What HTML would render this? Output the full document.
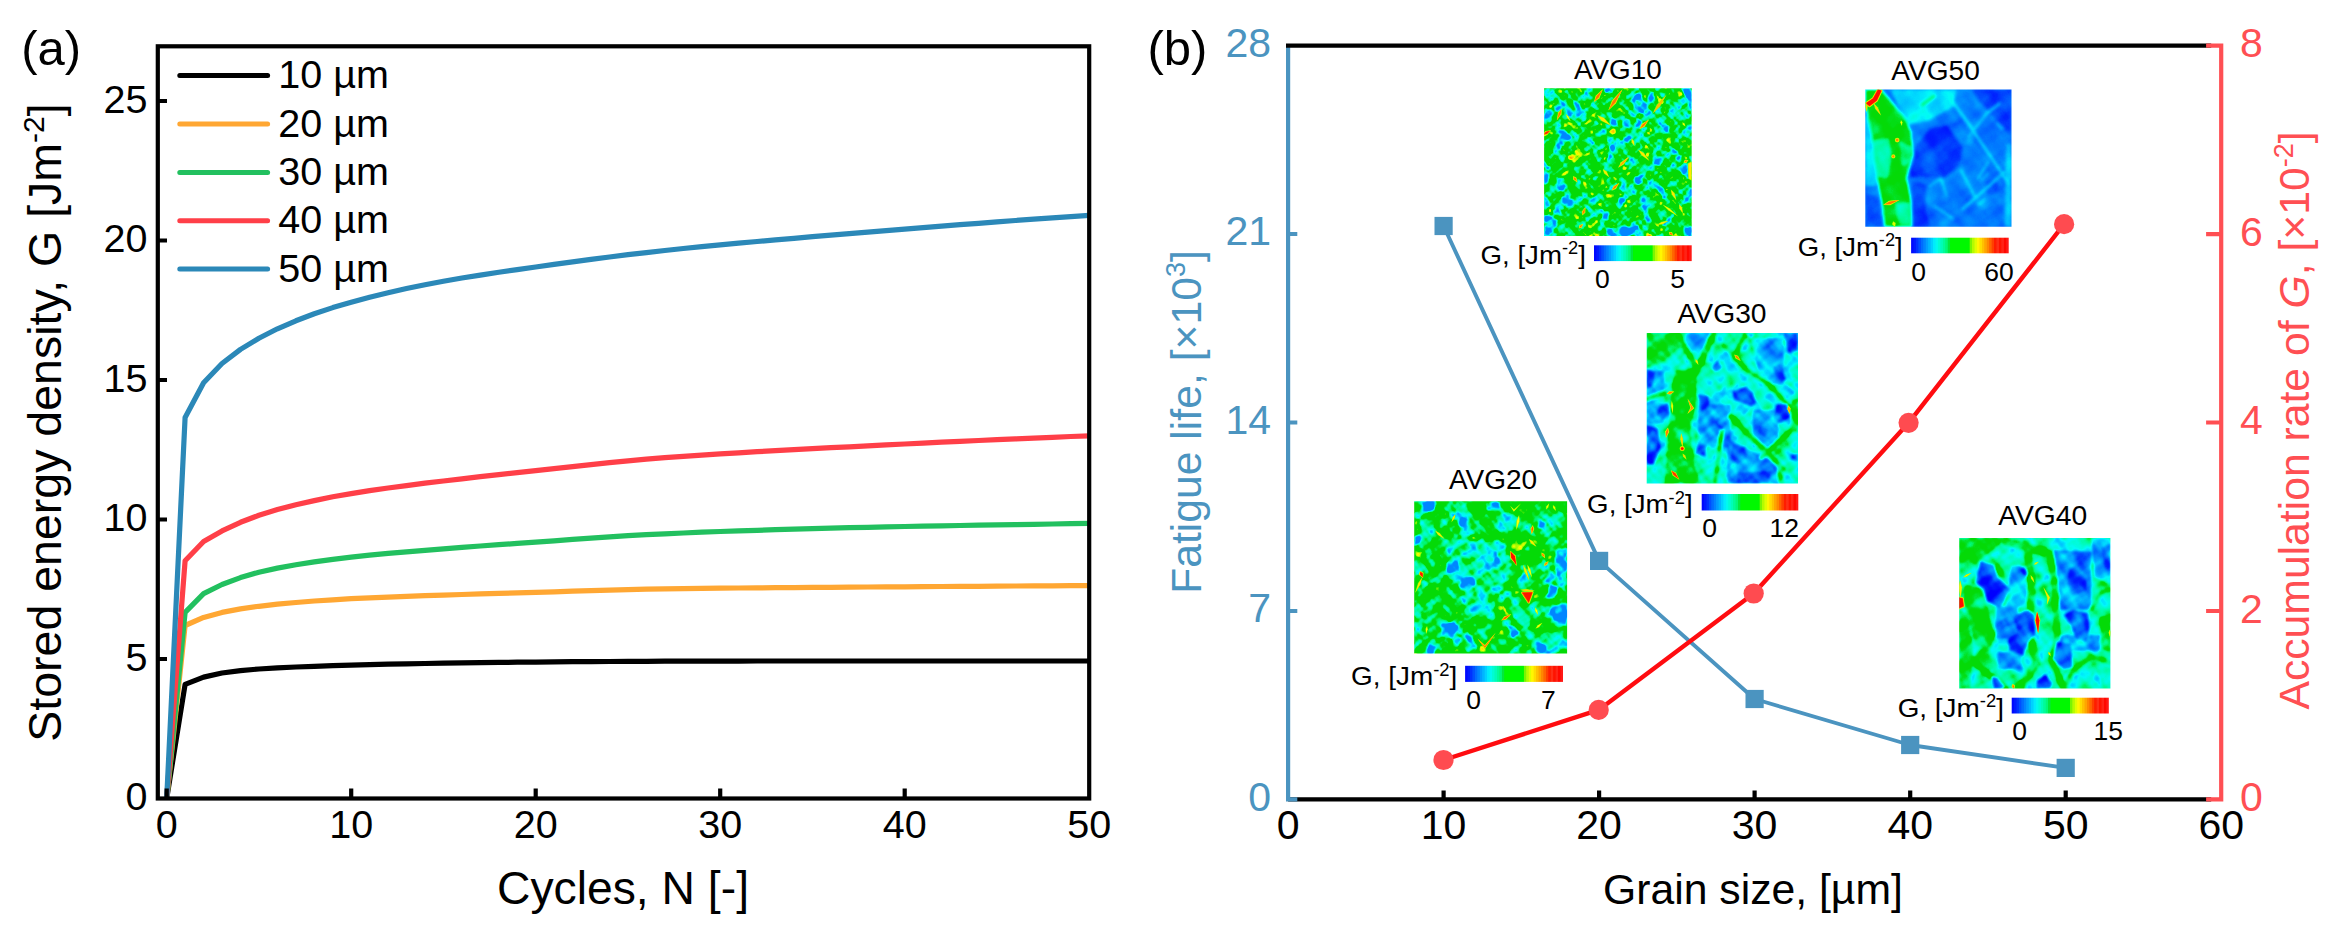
<!DOCTYPE html>
<html lang="en"><head><meta charset="utf-8"><title>Figure</title>
<style>html,body{margin:0;padding:0;background:#fff}svg{display:block}</style></head>
<body>
<svg width="2333" height="939" viewBox="0 0 2333 939" font-family='"Liberation Sans", sans-serif'>
<rect width="2333" height="939" fill="#fff"/>
<defs><clipPath id="ca"><rect x="157.8" y="46.3" width="931.4000000000001" height="754.2"/></clipPath></defs>
<g clip-path="url(#ca)" fill="none" stroke-width="5.2" stroke-linejoin="round">
<path d="M166.7 798.5L185.1 684.4L203.6 677.1L222.0 673.0L240.5 670.6L258.9 669.0L277.4 667.9L295.9 667.0L314.3 666.3L332.8 665.7L351.2 665.1L369.6 664.7L388.1 664.2L406.5 663.8L425.0 663.5L443.4 663.2L461.9 662.9L480.3 662.7L498.8 662.4L517.2 662.2L535.7 662.1L554.1 661.9L572.6 661.7L591.0 661.6L609.5 661.5L628.0 661.4L646.4 661.3L664.8 661.2L683.3 661.2L701.8 661.1L720.2 661.1L738.6 661.1L757.1 661.0L775.5 661.0L794.0 661.0L812.5 661.0L830.9 661.0L849.3 661.0L867.8 661.0L886.2 661.0L904.7 661.0L923.1 661.0L941.6 661.0L960.0 661.0L978.5 661.0L997.0 661.0L1015.4 661.0L1033.8 661.0L1052.3 661.0L1070.8 661.0L1089.2 661.0" stroke="#000000"/>
<path d="M166.7 798.5L185.1 625.5L203.6 617.4L222.0 612.4L240.5 608.9L258.9 606.3L277.4 604.2L295.9 602.5L314.3 601.0L332.8 599.8L351.2 598.7L369.6 597.8L388.1 597.1L406.5 596.4L425.0 595.7L443.4 595.1L461.9 594.5L480.3 593.9L498.8 593.4L517.2 592.8L535.7 592.3L554.1 591.8L572.6 591.2L591.0 590.6L609.5 590.1L628.0 589.6L646.4 589.2L664.8 588.9L683.3 588.6L701.8 588.4L720.2 588.2L738.6 588.0L757.1 587.9L775.5 587.7L794.0 587.6L812.5 587.4L830.9 587.3L849.3 587.2L867.8 587.0L886.2 586.9L904.7 586.8L923.1 586.6L941.6 586.5L960.0 586.4L978.5 586.3L997.0 586.2L1015.4 586.0L1033.8 585.9L1052.3 585.8L1070.8 585.7L1089.2 585.6" stroke="#FFA733"/>
<path d="M166.7 798.5L185.1 612.4L203.6 593.7L222.0 584.5L240.5 577.6L258.9 572.2L277.4 568.1L295.9 564.8L314.3 561.9L332.8 559.4L351.2 557.2L369.6 555.2L388.1 553.4L406.5 551.8L425.0 550.3L443.4 548.8L461.9 547.4L480.3 546.0L498.8 544.7L517.2 543.4L535.7 542.1L554.1 540.8L572.6 539.4L591.0 538.1L609.5 536.8L628.0 535.7L646.4 534.6L664.8 533.8L683.3 533.0L701.8 532.2L720.2 531.5L738.6 530.9L757.1 530.3L775.5 529.7L794.0 529.2L812.5 528.7L830.9 528.2L849.3 527.7L867.8 527.3L886.2 526.9L904.7 526.5L923.1 526.2L941.6 525.8L960.0 525.5L978.5 525.2L997.0 524.9L1015.4 524.6L1033.8 524.3L1052.3 524.0L1070.8 523.7L1089.2 523.4" stroke="#22C05F"/>
<path d="M166.7 798.5L185.1 560.8L203.6 541.5L222.0 530.9L240.5 522.3L258.9 515.3L277.4 509.6L295.9 504.8L314.3 500.6L332.8 496.8L351.2 493.6L369.6 490.6L388.1 488.0L406.5 485.6L425.0 483.2L443.4 481.0L461.9 478.8L480.3 476.7L498.8 474.7L517.2 472.7L535.7 470.7L554.1 468.7L572.6 466.6L591.0 464.6L609.5 462.7L628.0 460.8L646.4 459.2L664.8 457.7L683.3 456.3L701.8 455.1L720.2 453.9L738.6 452.8L757.1 451.7L775.5 450.7L794.0 449.7L812.5 448.7L830.9 447.7L849.3 446.8L867.8 445.8L886.2 444.9L904.7 444.0L923.1 443.1L941.6 442.2L960.0 441.4L978.5 440.5L997.0 439.7L1015.4 438.9L1033.8 438.1L1052.3 437.3L1070.8 436.5L1089.2 435.8" stroke="#FF3F48"/>
<path d="M166.7 798.5L185.1 417.4L203.6 382.8L222.0 363.5L240.5 349.4L258.9 338.2L277.4 328.8L295.9 320.8L314.3 313.8L332.8 307.6L351.2 302.2L369.6 297.2L388.1 292.7L406.5 288.5L425.0 284.7L443.4 281.2L461.9 278.0L480.3 275.1L498.8 272.3L517.2 269.6L535.7 267.0L554.1 264.4L572.6 261.9L591.0 259.4L609.5 257.0L628.0 254.7L646.4 252.6L664.8 250.5L683.3 248.5L701.8 246.7L720.2 244.9L738.6 243.2L757.1 241.5L775.5 239.9L794.0 238.3L812.5 236.7L830.9 235.2L849.3 233.6L867.8 232.1L886.2 230.6L904.7 229.1L923.1 227.6L941.6 226.2L960.0 224.7L978.5 223.3L997.0 221.9L1015.4 220.5L1033.8 219.2L1052.3 217.9L1070.8 216.6L1089.2 215.4" stroke="#2B88B8"/>
</g>
<rect x="157.8" y="46.3" width="931.4000000000001" height="752.2" fill="none" stroke="#000" stroke-width="4.2"/>
<path d="M166.7 798.5 v-10M351.2 798.5 v-10M535.7 798.5 v-10M720.2 798.5 v-10M904.7 798.5 v-10M157.8 659.0 h9.2M157.8 519.5 h9.2M157.8 380.0 h9.2M157.8 240.5 h9.2M157.8 101.0 h9.2" stroke="#000" stroke-width="4.2" fill="none"/>
<text x="166.7" y="837.6" font-size="39.5" fill="#000" text-anchor="middle">0</text>
<text x="351.2" y="837.6" font-size="39.5" fill="#000" text-anchor="middle">10</text>
<text x="535.7" y="837.6" font-size="39.5" fill="#000" text-anchor="middle">20</text>
<text x="720.2" y="837.6" font-size="39.5" fill="#000" text-anchor="middle">30</text>
<text x="904.7" y="837.6" font-size="39.5" fill="#000" text-anchor="middle">40</text>
<text x="1089.2" y="837.6" font-size="39.5" fill="#000" text-anchor="middle">50</text>
<text x="147.5" y="810.0" font-size="39.5" fill="#000" text-anchor="end">0</text>
<text x="147.5" y="670.5" font-size="39.5" fill="#000" text-anchor="end">5</text>
<text x="147.5" y="531.0" font-size="39.5" fill="#000" text-anchor="end">10</text>
<text x="147.5" y="391.5" font-size="39.5" fill="#000" text-anchor="end">15</text>
<text x="147.5" y="252.0" font-size="39.5" fill="#000" text-anchor="end">20</text>
<text x="147.5" y="112.5" font-size="39.5" fill="#000" text-anchor="end">25</text>
<text x="21.3" y="64.5" font-size="49" fill="#000">(a)</text>
<text x="623" y="904" font-size="46" fill="#000" text-anchor="middle" textLength="252" lengthAdjust="spacingAndGlyphs">Cycles, N [-]</text>
<text x="60.5" y="422.5" font-size="46.5" fill="#000" text-anchor="middle" transform="rotate(-90 60.5 422.5)">Stored energy density,  G [Jm<tspan font-size="30" dy="-17">-2</tspan><tspan dy="17">]</tspan></text>
<path d="M179.8 75.5H267.6" stroke="#000000" stroke-width="5.0" stroke-linecap="round" fill="none"/>
<text x="278.3" y="88.1" font-size="39.5" fill="#000">10 µm</text>
<path d="M179.8 124H267.6" stroke="#FFA733" stroke-width="5.0" stroke-linecap="round" fill="none"/>
<text x="278.3" y="136.6" font-size="39.5" fill="#000">20 µm</text>
<path d="M179.8 172.5H267.6" stroke="#22C05F" stroke-width="5.0" stroke-linecap="round" fill="none"/>
<text x="278.3" y="185.1" font-size="39.5" fill="#000">30 µm</text>
<path d="M179.8 220.7H267.6" stroke="#FF3F48" stroke-width="5.0" stroke-linecap="round" fill="none"/>
<text x="278.3" y="233.29999999999998" font-size="39.5" fill="#000">40 µm</text>
<path d="M179.8 269H267.6" stroke="#2B88B8" stroke-width="5.0" stroke-linecap="round" fill="none"/>
<text x="278.3" y="281.6" font-size="39.5" fill="#000">50 µm</text>
<defs><filter id="hb" x="-0.2" y="-0.2" width="1.4" height="1.4"><feGaussianBlur stdDeviation="0.45"/></filter></defs>
<defs><linearGradient id="jet" x1="0" x2="1" y1="0" y2="0"><stop offset="0.004" stop-color="#0009ff"/><stop offset="0.021" stop-color="#0009ff"/><stop offset="0.029" stop-color="#001aff"/><stop offset="0.046" stop-color="#001aff"/><stop offset="0.054" stop-color="#0032ff"/><stop offset="0.071" stop-color="#0032ff"/><stop offset="0.079" stop-color="#0050ff"/><stop offset="0.096" stop-color="#0050ff"/><stop offset="0.104" stop-color="#006cff"/><stop offset="0.121" stop-color="#006cff"/><stop offset="0.129" stop-color="#0084ff"/><stop offset="0.146" stop-color="#0084ff"/><stop offset="0.154" stop-color="#009eff"/><stop offset="0.171" stop-color="#009eff"/><stop offset="0.179" stop-color="#00b6ff"/><stop offset="0.196" stop-color="#00b6ff"/><stop offset="0.204" stop-color="#00d0ff"/><stop offset="0.221" stop-color="#00d0ff"/><stop offset="0.229" stop-color="#00ebfc"/><stop offset="0.246" stop-color="#00ebfc"/><stop offset="0.254" stop-color="#00faee"/><stop offset="0.271" stop-color="#00faee"/><stop offset="0.279" stop-color="#00fcd4"/><stop offset="0.296" stop-color="#00fcd4"/><stop offset="0.304" stop-color="#00fcb8"/><stop offset="0.321" stop-color="#00fcb8"/><stop offset="0.329" stop-color="#00fb99"/><stop offset="0.346" stop-color="#00fb99"/><stop offset="0.354" stop-color="#00f877"/><stop offset="0.371" stop-color="#00f877"/><stop offset="0.379" stop-color="#02e83d"/><stop offset="0.396" stop-color="#02e83d"/><stop offset="0.404" stop-color="#00f800"/><stop offset="0.421" stop-color="#00f800"/><stop offset="0.429" stop-color="#00f800"/><stop offset="0.446" stop-color="#00f800"/><stop offset="0.454" stop-color="#00f800"/><stop offset="0.471" stop-color="#00f800"/><stop offset="0.479" stop-color="#00f800"/><stop offset="0.496" stop-color="#00f800"/><stop offset="0.504" stop-color="#00f800"/><stop offset="0.521" stop-color="#00f800"/><stop offset="0.529" stop-color="#00f800"/><stop offset="0.546" stop-color="#00f800"/><stop offset="0.554" stop-color="#00f800"/><stop offset="0.571" stop-color="#00f800"/><stop offset="0.579" stop-color="#00f800"/><stop offset="0.596" stop-color="#00f800"/><stop offset="0.604" stop-color="#7bf401"/><stop offset="0.621" stop-color="#7bf401"/><stop offset="0.629" stop-color="#b5fb00"/><stop offset="0.646" stop-color="#b5fb00"/><stop offset="0.654" stop-color="#e0fe00"/><stop offset="0.671" stop-color="#e0fe00"/><stop offset="0.679" stop-color="#fff700"/><stop offset="0.696" stop-color="#fff700"/><stop offset="0.704" stop-color="#ffdc00"/><stop offset="0.721" stop-color="#ffdc00"/><stop offset="0.729" stop-color="#ffc100"/><stop offset="0.746" stop-color="#ffc100"/><stop offset="0.754" stop-color="#ffa400"/><stop offset="0.771" stop-color="#ffa400"/><stop offset="0.779" stop-color="#ff8700"/><stop offset="0.796" stop-color="#ff8700"/><stop offset="0.804" stop-color="#ff6500"/><stop offset="0.821" stop-color="#ff6500"/><stop offset="0.829" stop-color="#ff4000"/><stop offset="0.846" stop-color="#ff4000"/><stop offset="0.854" stop-color="#ff1d00"/><stop offset="0.871" stop-color="#ff1d00"/><stop offset="0.879" stop-color="#ff2e16"/><stop offset="0.896" stop-color="#ff2e16"/><stop offset="0.904" stop-color="#ff1300"/><stop offset="0.921" stop-color="#ff1300"/><stop offset="0.929" stop-color="#ff2316"/><stop offset="0.946" stop-color="#ff2316"/><stop offset="0.954" stop-color="#ff0800"/><stop offset="0.971" stop-color="#ff0800"/><stop offset="0.979" stop-color="#ff1916"/><stop offset="0.996" stop-color="#ff1916"/></linearGradient></defs>
<filter id="f10" x="0" y="0" width="1" height="1" color-interpolation-filters="sRGB"><feGaussianBlur in="SourceGraphic" stdDeviation="0.9" result="b"/><feTurbulence type="fractalNoise" baseFrequency="0.05 0.17" numOctaves="2" seed="2" result="n"/><feTurbulence type="fractalNoise" baseFrequency="0.17 0.05" numOctaves="2" seed="9" result="m"/><feColorMatrix in="n" type="matrix" values="0.55 0 0 0 0 0.55 0 0 0 0 0.55 0 0 0 0 0 0 0 0 1" result="g"/><feColorMatrix in="m" type="matrix" values="0.55 0 0 0 0 0.55 0 0 0 0 0.55 0 0 0 0 0 0 0 0 1" result="h"/><feComposite in="b" in2="g" operator="arithmetic" k1="0" k2="1" k3="1" k4="-0.275" result="t"/><feComposite in="t" in2="h" operator="arithmetic" k1="0" k2="1" k3="1" k4="-0.275" result="s"/><feComponentTransfer in="s"><feFuncR type="table" tableValues="0 0 0 0 0 0 0 0 0 0 0 0 0 0 0 0.005 0.013 0.016 0.016 0.016 0.016 0.016 0.016 0.016 0.302 0.623 0.794 0.966 1 1 1 1 1 1 1 1 1 1 1 1 1"/><feFuncG type="table" tableValues="0.529 0.529 0.529 0.529 0.529 0.529 0.569 0.667 0.765 0.866 0.98 0.984 0.988 0.985 0.982 0.943 0.88 0.855 0.855 0.855 0.855 0.855 0.855 0.855 0.918 0.982 0.99 0.998 0.915 0.809 0.699 0.585 0.471 0.324 0.176 0.105 0.084 0.063 0.042 0.021 0"/><feFuncB type="table" tableValues="1 1 1 1 1 1 1 1 1 0.997 0.98 0.882 0.784 0.662 0.539 0.353 0.123 0.031 0.031 0.031 0.031 0.031 0.031 0.031 0.016 0 0 0 0 0 0 0 0 0 0 0 0 0 0 0 0"/></feComponentTransfer></filter>
<clipPath id="c10"><rect x="1544.1" y="88.3" width="147.6" height="147.6"/></clipPath>
<g clip-path="url(#c10)"><g transform="rotate(50 1617.9 162.1)" filter="url(#f10)"><g transform="rotate(-50 1617.9 162.1)">
<rect x="1536.1" y="80.3" width="163.6" height="163.6" fill="#777777"/>
<polygon points="1573.8,105.6 1583.9,99.0 1584.4,101.0 1576.0,107.8" fill="#5c5c5c"/>
<polygon points="1572.9,218.0 1584.0,228.7 1582.0,233.4 1568.5,223.7" fill="#616161"/>
<polygon points="1579.8,119.1 1586.0,124.8 1582.7,129.6 1576.1,125.8" fill="#545454"/>
<polygon points="1587.9,204.6 1591.6,209.8 1590.0,211.2 1586.4,206.8" fill="#545454"/>
<polygon points="1595.1,194.5 1602.2,200.4 1599.1,202.9 1592.5,198.6" fill="#4c4c4c"/>
<polygon points="1592.1,94.3 1605.3,105.0 1605.1,108.4 1589.5,97.3" fill="#545454"/>
<polygon points="1672.2,132.3 1677.1,127.2 1680.7,129.6 1676.5,135.8" fill="#454545"/>
<polygon points="1674.6,105.9 1679.9,101.6 1683.8,102.8 1680.0,109.9" fill="#545454"/>
<polygon points="1611.6,118.9 1618.2,126.9 1617.0,127.9 1610.7,121.7" fill="#454545"/>
<polygon points="1667.1,110.2 1671.4,104.6 1676.9,106.6 1674.4,112.5" fill="#616161"/>
<polygon points="1677.1,218.8 1681.2,228.5 1677.8,232.0 1672.2,224.0" fill="#545454"/>
<polygon points="1545.4,222.9 1550.3,216.5 1555.6,219.2 1552.1,224.7" fill="#616161"/>
<polygon points="1665.7,110.8 1676.9,97.7 1682.0,99.4 1672.4,112.1" fill="#4c4c4c"/>
<polygon points="1555.9,187.1 1559.8,193.2 1555.6,194.9 1552.0,189.4" fill="#616161"/>
<polygon points="1608.6,110.8 1617.6,126.7 1613.4,127.2 1605.8,114.2" fill="#454545"/>
<polygon points="1551.9,213.7 1558.2,221.3 1555.4,222.2 1550.5,217.4" fill="#4c4c4c"/>
<polygon points="1648.6,83.4 1653.0,92.4 1649.9,94.1 1644.7,88.0" fill="#4c4c4c"/>
<polygon points="1645.2,171.7 1648.6,181.1 1644.6,184.5 1639.0,177.4" fill="#5c5c5c"/>
<polygon points="1558.4,101.8 1565.3,95.5 1568.9,98.4 1564.1,105.7" fill="#5c5c5c"/>
<polygon points="1636.6,140.1 1642.7,132.5 1643.9,133.8 1638.6,141.0" fill="#4c4c4c"/>
<polygon points="1651.6,233.3 1657.5,226.4 1661.1,229.4 1656.4,235.5" fill="#545454"/>
<polygon points="1651.0,160.5 1659.2,171.0 1656.1,173.5 1649.3,165.5" fill="#5c5c5c"/>
<polygon points="1604.7,140.6 1606.7,148.1 1603.4,149.0 1600.0,145.0" fill="#616161"/>
<polygon points="1653.7,111.9 1661.3,106.1 1663.2,108.7 1657.7,113.3" fill="#4c4c4c"/>
<polygon points="1683.6,94.7 1688.3,102.0 1684.1,105.5 1679.9,100.1" fill="#4c4c4c"/>
<polygon points="1648.9,165.6 1656.2,174.6 1653.8,175.3 1646.2,166.5" fill="#454545"/>
<polygon points="1553.7,228.5 1557.8,236.9 1553.0,238.0 1548.7,231.2" fill="#545454"/>
<polygon points="1673.2,148.4 1680.7,157.6 1679.7,163.6 1667.0,153.0" fill="#454545"/>
<polygon points="1631.1,87.2 1637.5,99.8 1634.8,99.8 1628.6,91.4" fill="#4c4c4c"/>
<polygon points="1627.1,168.7 1639.9,158.4 1639.9,162.9 1630.0,171.8" fill="#545454"/>
<polygon points="1639.4,107.5 1653.6,96.9 1657.4,100.1 1642.7,112.3" fill="#545454"/>
<polygon points="1672.5,192.0 1680.8,204.3 1679.2,206.4 1670.4,194.7" fill="#545454"/>
<polygon points="1647.6,149.1 1650.6,155.9 1649.8,157.9 1645.6,150.2" fill="#616161"/>
<polygon points="1550.5,150.3 1559.5,140.5 1563.9,143.2 1556.2,152.9" fill="#454545"/>
<polygon points="1652.8,182.9 1657.3,180.2 1660.7,183.3 1656.9,187.8" fill="#4c4c4c"/>
<polygon points="1635.0,238.8 1644.6,226.5 1650.0,228.4 1639.3,243.1" fill="#545454"/>
<polygon points="1545.7,96.5 1551.8,91.1 1557.2,93.9 1552.9,100.9" fill="#454545"/>
<polygon points="1616.9,143.7 1627.1,135.3 1633.2,137.7 1622.0,147.9" fill="#4c4c4c"/>
<polygon points="1678.3,116.0 1686.6,111.3 1690.3,116.2 1682.0,122.9" fill="#454545"/>
<polygon points="1563.6,238.1 1572.0,228.6 1573.8,231.0 1566.8,240.1" fill="#4c4c4c"/>
<polygon points="1610.0,236.0 1617.0,227.8 1620.6,226.6 1614.1,235.7" fill="#5c5c5c"/>
<polygon points="1577.4,190.1 1582.7,202.5 1579.9,204.7 1575.4,195.1" fill="#616161"/>
<polygon points="1668.0,120.9 1673.3,111.6 1675.8,111.3 1671.5,121.3" fill="#616161"/>
<polygon points="1562.4,108.8 1572.6,117.8 1571.7,121.0 1561.4,112.0" fill="#616161"/>
<polygon points="1629.1,228.1 1634.3,219.4 1636.5,220.2 1632.4,228.5" fill="#4c4c4c"/>
<polygon points="1690.0,86.6 1694.2,90.5 1693.8,93.1 1689.0,89.9" fill="#545454"/>
<polygon points="1672.5,224.8 1681.8,233.3 1678.5,235.0 1670.8,230.2" fill="#5c5c5c"/>
<polygon points="1629.7,226.4 1635.6,232.0 1633.7,234.8 1628.0,229.6" fill="#616161"/>
<polygon points="1641.6,188.8 1653.8,200.3 1650.9,202.9 1638.8,193.8" fill="#545454"/>
<polygon points="1584.5,217.6 1594.2,211.3 1598.9,210.3 1587.0,221.5" fill="#545454"/>
<polygon points="1678.6,136.6 1683.3,148.3 1680.8,149.5 1675.7,139.7" fill="#4c4c4c"/>
<polygon points="1621.3,232.9 1629.8,228.0 1632.9,229.6 1623.9,236.3" fill="#4c4c4c"/>
<polygon points="1603.9,169.0 1616.0,159.8 1616.7,162.2 1605.7,171.1" fill="#4c4c4c"/>
<polygon points="1656.8,141.2 1663.8,132.4 1667.3,134.9 1661.8,142.9" fill="#4c4c4c"/>
<polygon points="1614.9,206.9 1624.0,194.0 1627.5,197.1 1620.8,210.0" fill="#454545"/>
<polygon points="1651.3,160.4 1661.9,150.2 1664.8,151.7 1653.6,162.9" fill="#454545"/>
<polygon points="1676.4,201.2 1682.8,192.5 1685.8,193.7 1682.2,202.0" fill="#616161"/>
<polygon points="1582.0,97.5 1591.9,88.5 1596.9,90.0 1588.2,100.9" fill="#545454"/>
<polygon points="1572.3,206.7 1577.9,202.4 1581.5,205.1 1577.2,209.7" fill="#545454"/>
<polygon points="1644.2,225.6 1650.3,217.0 1653.2,221.6 1649.3,227.8" fill="#4c4c4c"/>
<polygon points="1610.9,146.9 1616.2,141.0 1621.5,143.2 1617.7,148.8" fill="#545454"/>
<polygon points="1632.8,159.4 1644.3,172.2 1640.5,173.0 1630.4,164.1" fill="#5c5c5c"/>
<polygon points="1655.5,195.2 1660.1,188.3 1664.0,189.3 1661.6,195.9" fill="#616161"/>
<polygon points="1650.6,208.8 1653.8,204.7 1656.9,206.7 1654.4,211.6" fill="#5c5c5c"/>
<polygon points="1542.3,140.3 1550.4,152.2 1548.4,153.4 1540.2,142.9" fill="#4c4c4c"/>
<polygon points="1680.0,110.3 1688.4,117.6 1685.1,122.3 1674.6,115.6" fill="#4c4c4c"/>
<polygon points="1661.5,154.3 1666.3,163.1 1665.6,165.5 1660.0,157.7" fill="#616161"/>
<polygon points="1588.5,84.7 1593.6,91.4 1589.4,95.3 1583.5,88.7" fill="#5c5c5c"/>
<polygon points="1603.9,192.1 1608.7,186.6 1612.5,189.6 1608.7,195.0" fill="#5c5c5c"/>
<polygon points="1549.5,191.2 1556.7,199.8 1554.4,201.3 1547.6,195.0" fill="#454545"/>
<polygon points="1615.1,144.2 1626.6,136.7 1630.0,140.2 1621.7,147.7" fill="#5c5c5c"/>
<polygon points="1632.6,109.2 1640.9,121.3 1639.6,125.2 1630.2,114.3" fill="#4c4c4c"/>
<polygon points="1635.5,121.0 1643.8,129.0 1640.7,132.4 1631.8,125.1" fill="#4c4c4c"/>
<polygon points="1579.2,98.2 1584.0,108.5 1579.7,110.3 1574.4,101.7" fill="#616161"/>
<polygon points="1562.1,216.8 1574.3,204.5 1576.9,208.9 1567.8,220.6" fill="#454545"/>
<polygon points="1578.6,151.5 1586.8,160.5 1586.5,163.3 1577.7,154.0" fill="#454545"/>
<polygon points="1581.2,152.3 1586.7,144.5 1591.2,147.8 1587.5,153.3" fill="#454545"/>
<polygon points="1627.2,90.9 1636.5,101.7 1637.1,104.6 1626.5,93.8" fill="#5c5c5c"/>
<polygon points="1613.9,96.4 1628.1,108.9 1625.2,113.5 1612.1,102.9" fill="#616161"/>
<polygon points="1563.1,116.9 1569.9,107.7 1575.3,110.5 1569.1,120.0" fill="#5c5c5c"/>
<polygon points="1637.6,229.3 1649.1,218.7 1655.3,219.6 1644.4,231.6" fill="#5c5c5c"/>
<polygon points="1552.1,107.1 1557.9,104.1 1562.4,108.0 1558.2,113.7" fill="#4c4c4c"/>
<polygon points="1617.0,226.7 1625.3,235.0 1622.9,240.4 1611.0,233.1" fill="#4c4c4c"/>
<polygon points="1645.9,206.8 1656.9,194.6 1658.4,197.8 1651.1,208.1" fill="#545454"/>
<polygon points="1594.1,135.9 1607.0,124.3 1611.3,124.8 1599.7,135.5" fill="#616161"/>
<polygon points="1605.1,117.1 1609.4,110.9 1614.9,113.0 1610.3,119.1" fill="#4c4c4c"/>
<polygon points="1577.9,202.4 1585.4,195.2 1588.6,196.0 1582.5,203.5" fill="#616161"/>
<polygon points="1610.1,223.5 1617.7,216.5 1619.7,218.8 1614.0,224.8" fill="#5c5c5c"/>
<polygon points="1575.4,221.9 1579.7,217.3 1581.8,218.6 1577.9,223.5" fill="#545454"/>
<polygon points="1684.3,100.4 1692.5,94.0 1694.8,95.7 1687.5,101.4" fill="#616161"/>
<polygon points="1597.5,231.4 1601.2,225.6 1603.6,228.0 1601.0,232.4" fill="#454545"/>
<polygon points="1655.1,122.7 1660.6,130.5 1657.0,134.2 1651.2,127.9" fill="#545454"/>
<polygon points="1647.8,139.9 1657.7,151.8 1655.8,154.9 1645.6,143.7" fill="#4c4c4c"/>
<polygon points="1664.2,162.9 1670.3,169.1 1669.0,170.6 1662.3,164.9" fill="#5c5c5c"/>
<polygon points="1554.3,130.6 1558.5,123.4 1562.2,125.2 1558.0,132.3" fill="#4c4c4c"/>
<polygon points="1641.3,102.3 1651.8,110.3 1652.3,113.6 1640.8,105.9" fill="#616161"/>
<polygon points="1544.0,115.2 1552.5,127.6 1550.5,129.8 1540.3,117.0" fill="#454545"/>
<polygon points="1685.7,162.7 1689.1,168.9 1686.7,172.0 1682.7,165.0" fill="#454545"/>
<polygon points="1571.4,199.1 1578.2,195.2 1583.3,198.2 1576.3,204.9" fill="#545454"/>
<polygon points="1679.8,202.3 1690.4,187.7 1696.6,189.4 1686.6,204.2" fill="#454545"/>
<polygon points="1651.8,184.2 1659.1,174.3 1663.2,174.6 1655.8,187.1" fill="#616161"/>
<polygon points="1664.6,218.5 1672.5,209.4 1676.7,212.4 1671.8,219.8" fill="#545454"/>
<polygon points="1562.1,206.3 1567.5,210.6 1564.9,215.1 1559.8,210.8" fill="#4c4c4c"/>
<polygon points="1661.5,116.7 1669.4,127.2 1667.4,128.4 1660.7,120.3" fill="#616161"/>
<polygon points="1572.9,95.4 1577.4,89.7 1580.4,91.1 1576.6,96.5" fill="#545454"/>
<polygon points="1612.3,143.1 1617.4,138.3 1621.1,140.0 1619.3,146.9" fill="#454545"/>
<polygon points="1581.1,140.4 1588.1,134.6 1592.8,138.8 1587.6,144.6" fill="#4c4c4c"/>
<polygon points="1638.2,207.3 1645.0,195.3 1648.2,196.2 1641.6,208.0" fill="#616161"/>
<polygon points="1541.4,228.5 1547.6,221.5 1550.7,224.2 1545.4,229.7" fill="#454545"/>
<polygon points="1669.2,157.3 1678.2,151.0 1680.0,153.7 1673.3,160.8" fill="#5c5c5c"/>
<polygon points="1685.5,130.3 1689.2,137.4 1685.7,140.7 1681.2,134.5" fill="#545454"/>
<polygon points="1648.2,188.5 1656.5,180.6 1659.5,184.7 1653.4,191.9" fill="#545454"/>
<polygon points="1651.6,206.8 1662.4,215.8 1663.8,219.2 1651.8,209.9" fill="#4c4c4c"/>
<polygon points="1627.3,174.8 1630.3,181.2 1628.0,184.3 1623.2,178.4" fill="#616161"/>
<polygon points="1575.0,173.8 1580.5,182.5 1579.2,184.1 1571.9,176.1" fill="#4c4c4c"/>
<polygon points="1668.1,189.2 1672.6,194.7 1670.7,199.6 1665.0,193.7" fill="#545454"/>
<polygon points="1633.9,140.9 1645.0,127.3 1650.2,128.7 1640.1,142.4" fill="#5c5c5c"/>
<polygon points="1621.3,169.3 1628.5,177.7 1626.4,181.0 1619.0,174.2" fill="#454545"/>
<polygon points="1541.1,157.0 1553.2,168.9 1549.6,170.1 1538.8,162.6" fill="#4c4c4c"/>
<polygon points="1579.3,117.8 1585.4,108.7 1589.0,108.2 1583.4,119.4" fill="#454545"/>
<polygon points="1646.5,164.4 1648.4,170.3 1645.1,171.7 1642.2,167.2" fill="#454545"/>
<polygon points="1542.1,119.7 1552.4,129.6 1550.0,134.1 1539.5,124.2" fill="#616161"/>
<polygon points="1595.4,151.0 1601.6,165.7 1599.8,169.1 1592.4,155.4" fill="#5c5c5c"/>
<polygon points="1575.5,165.4 1583.6,177.2 1581.1,179.0 1572.7,169.1" fill="#4c4c4c"/>
<polygon points="1673.4,162.5 1676.5,169.3 1674.6,172.5 1670.5,165.8" fill="#545454"/>
<polygon points="1624.9,164.4 1633.3,157.2 1638.3,158.7 1630.9,167.2" fill="#454545"/>
<polygon points="1548.3,156.9 1558.7,146.3 1563.7,148.0 1554.5,160.5" fill="#454545"/>
<polygon points="1555.9,202.4 1562.0,212.5 1560.7,215.1 1554.2,205.4" fill="#545454"/>
<polygon points="1646.5,100.0 1651.6,91.2 1655.2,92.0 1650.9,100.7" fill="#454545"/>
<polygon points="1598.3,197.4 1604.0,195.6 1607.5,198.6 1602.9,203.6" fill="#4c4c4c"/>
<polygon points="1627.3,114.6 1638.6,103.4 1645.0,105.9 1635.6,116.9" fill="#454545"/>
<polygon points="1662.0,153.0 1670.1,159.1 1669.6,163.6 1660.4,157.6" fill="#545454"/>
<polygon points="1675.1,118.0 1683.2,108.2 1689.7,108.5 1681.1,120.7" fill="#616161"/>
<polygon points="1590.6,178.8 1597.3,173.5 1598.5,176.7 1593.2,181.1" fill="#4c4c4c"/>
<polygon points="1614.1,184.6 1622.4,174.1 1626.0,176.2 1620.4,188.0" fill="#616161"/>
<polygon points="1679.2,111.1 1688.3,125.4 1686.1,130.8 1676.9,118.9" fill="#5c5c5c"/>
<polygon points="1649.6,124.3 1661.0,110.3 1666.0,113.6 1657.6,124.4" fill="#616161"/>
<polygon points="1609.8,160.2 1614.6,171.1 1609.4,172.8 1603.4,163.8" fill="#4c4c4c"/>
<polygon points="1557.9,187.4 1562.3,182.6 1565.9,185.3 1563.0,190.8" fill="#4c4c4c"/>
<polygon points="1643.8,191.0 1653.2,176.3 1654.6,178.0 1647.3,190.2" fill="#454545"/>
<polygon points="1686.6,129.5 1693.2,125.7 1694.6,127.4 1689.9,131.6" fill="#454545"/>
<polygon points="1561.4,213.3 1570.3,200.8 1574.0,201.5 1567.2,215.8" fill="#4c4c4c"/>
<polygon points="1680.8,164.7 1692.1,173.2 1688.5,177.7 1676.3,168.8" fill="#4c4c4c"/>
<polygon points="1561.0,81.3 1572.4,94.8 1568.3,95.1 1557.4,83.6" fill="#545454"/>
<polygon points="1607.4,135.0 1618.9,144.5 1615.4,146.9 1607.0,140.8" fill="#4c4c4c"/>
<polygon points="1559.4,202.3 1567.3,189.3 1571.2,191.8 1565.1,205.5" fill="#4c4c4c"/>
<polygon points="1575.0,168.9 1581.4,180.4 1579.9,182.0 1572.9,171.3" fill="#545454"/>
<polygon points="1641.2,144.3 1646.7,156.9 1645.1,160.5 1637.9,149.0" fill="#454545"/>
<polygon points="1636.5,187.3 1637.9,193.6 1633.4,196.0 1629.9,190.6" fill="#545454"/>
<polygon points="1661.3,224.3 1668.4,216.6 1672.5,218.6 1668.0,226.5" fill="#545454"/>
<polygon points="1544.1,88.3 1549.8,88.3 1548.2,94.9 1544.1,101.4" fill="#262626"/>
<polygon points="1544.1,108.0 1553.1,109.6 1551.5,122.7 1544.1,122.7" fill="#262626"/>
<polygon points="1572.8,101.4 1580.2,103.1 1581.0,112.9 1587.6,119.5 1584.3,122.7 1576.1,114.5" fill="#262626"/>
<polygon points="1604.0,88.3 1613.8,88.3 1612.2,93.2 1605.6,93.2" fill="#262626"/>
<polygon points="1631.8,94.9 1641.7,93.2 1646.6,106.3 1651.5,112.9 1645.0,116.2 1633.5,109.6" fill="#262626"/>
<polygon points="1681.0,88.3 1691.7,88.3 1691.7,112.9 1687.6,101.4" fill="#262626"/>
<polygon points="1658.1,122.7 1667.9,124.4 1669.6,132.6 1661.4,134.2" fill="#242424"/>
<polygon points="1558.0,129.3 1564.6,130.9 1572.8,139.1 1567.9,142.4 1559.7,135.9" fill="#262626"/>
<polygon points="1608.9,145.7 1617.1,142.4 1612.2,155.5 1607.2,162.1" fill="#262626"/>
<polygon points="1622.0,136.7 1630.2,137.5 1629.4,142.4 1622.8,141.6" fill="#262626"/>
<polygon points="1590.8,140.8 1594.1,142.4 1592.5,145.7" fill="#1f1f1f"/>
<polygon points="1634.3,176.0 1642.5,175.2 1643.3,183.4 1636.8,185.1" fill="#262626"/>
<polygon points="1656.4,185.1 1664.6,186.7 1665.5,194.9 1658.1,193.3" fill="#262626"/>
<polygon points="1544.1,170.3 1549.0,173.6 1548.2,183.4 1544.1,185.1" fill="#262626"/>
<polygon points="1544.1,196.5 1549.8,198.2 1549.0,206.4 1544.1,208.0" fill="#262626"/>
<polygon points="1544.1,214.6 1554.8,217.9 1556.4,227.7 1549.8,235.9 1544.1,235.9" fill="#262626"/>
<polygon points="1566.2,198.2 1572.8,199.8 1574.4,209.7 1567.9,208.0" fill="#262626"/>
<polygon points="1601.5,209.7 1608.9,211.3 1608.1,221.1 1602.3,220.3" fill="#262626"/>
<polygon points="1641.7,204.7 1646.6,206.4 1651.5,221.1 1646.6,222.8" fill="#262626"/>
<polygon points="1607.2,227.7 1638.4,226.1 1641.7,235.9 1607.2,235.9" fill="#262626"/>
<polygon points="1684.3,227.7 1691.7,226.1 1691.7,235.9 1684.3,235.9" fill="#262626"/>
<polygon points="1618.7,196.5 1623.6,198.2 1622.8,203.1 1618.7,202.3" fill="#262626"/>
<polygon points="1552.3,209.7 1561.3,211.3 1561.3,216.2 1553.1,216.2" fill="#292929"/>
<polygon points="1584.3,93.2 1589.2,94.9 1587.6,103.1 1582.6,101.4" fill="#333333"/>
<polygon points="1622.0,117.8 1631.8,119.5 1630.2,127.7 1622.0,126.0" fill="#333333"/>
<polygon points="1654.8,153.9 1664.6,157.2 1661.4,167.0 1653.2,163.7" fill="#333333"/>
<polygon points="1556.4,176.9 1564.6,178.5 1564.6,190.0 1556.4,190.0" fill="#333333"/>
<polygon points="1622.0,176.9 1626.9,178.5 1625.3,191.6 1620.4,190.0" fill="#333333"/>
</g></g>
<g filter="url(#hb)" stroke-linecap="round" stroke-linejoin="round">
<polygon points="1593.9,102.2 1599.4,98.3 1602.9,89.1 1595.6,95.7" fill="#a8fb00"/>
<polygon points="1594.2,101.8 1599.1,97.9 1602.6,89.5 1596.0,95.9" fill="#ffe900"/>
<polygon points="1594.4,101.4 1598.7,97.6 1602.3,89.9 1596.5,96.1" fill="#ff7800"/>
<polygon points="1608.3,110.5 1616.1,103.3 1622.6,89.1 1611.9,100.5" fill="#a8fb00"/>
<polygon points="1608.6,110.0 1615.8,103.0 1622.3,89.5 1612.4,100.7" fill="#ffe900"/>
<polygon points="1608.9,109.6 1615.4,102.6 1622.0,89.9 1612.8,100.9" fill="#ff7800"/>
<polygon points="1596.9,115.0 1601.3,120.9 1611.0,125.6 1603.8,117.5" fill="#96fa00"/>
<polygon points="1597.4,115.4 1601.7,120.5 1610.5,125.2 1603.6,118.1" fill="#ffe900"/>
<polygon points="1561.7,108.7 1557.9,112.6 1556.8,120.4 1561.6,114.2" fill="#a8fb00"/>
<polygon points="1561.5,109.2 1558.3,112.9 1557.0,119.9 1561.1,114.1" fill="#ffe900"/>
<polygon points="1561.3,109.6 1558.7,113.2 1557.2,119.5 1560.6,114.0" fill="#ff7800"/>
<polygon points="1652.8,113.4 1659.9,106.9 1666.6,94.4 1656.8,104.6" fill="#96fa00"/>
<polygon points="1653.2,112.9 1659.5,106.5 1666.3,94.9 1657.3,104.9" fill="#ffbe00"/>
<polygon points="1639.3,129.2 1644.7,126.8 1648.9,119.6 1641.7,123.8" fill="#a8fb00"/>
<polygon points="1639.7,128.8 1644.4,126.4 1648.6,119.9 1642.1,124.1" fill="#ffe900"/>
<polygon points="1640.0,128.5 1644.1,126.0 1648.2,120.3 1642.5,124.4" fill="#ff7800"/>
<polygon points="1638.0,149.4 1641.4,155.2 1649.5,160.9 1643.8,152.8" fill="#96fa00"/>
<polygon points="1638.4,149.8 1641.9,154.9 1649.1,160.5 1643.5,153.3" fill="#ffe900"/>
<polygon points="1631.6,138.6 1631.4,142.2 1634.5,146.3 1634.2,141.1" fill="#96fa00"/>
<polygon points="1631.8,139.1 1632.0,142.1 1634.3,145.7 1633.7,141.4" fill="#ffe900"/>
<polygon points="1618.0,167.7 1623.8,164.5 1629.3,156.5 1621.2,161.9" fill="#a8fb00"/>
<polygon points="1618.4,167.4 1623.5,164.1 1628.9,156.8 1621.7,162.2" fill="#ffe900"/>
<polygon points="1618.7,167.0 1623.2,163.7 1628.6,157.2 1622.1,162.5" fill="#ffa700"/>
<polygon points="1602.8,169.0 1604.0,173.4 1609.2,177.3 1606.7,171.3" fill="#96fa00"/>
<polygon points="1603.1,169.5 1604.5,173.1 1608.9,176.9 1606.3,171.7" fill="#ffe900"/>
<polygon points="1611.5,190.7 1616.0,188.9 1619.4,182.7 1613.3,186.1" fill="#a8fb00"/>
<polygon points="1611.8,190.3 1615.7,188.4 1619.1,183.1 1613.7,186.4" fill="#ffe900"/>
<polygon points="1612.2,190.0 1615.4,188.0 1618.7,183.4 1614.1,186.7" fill="#ff7800"/>
<polygon points="1573.1,176.0 1573.2,179.7 1577.5,182.6 1576.4,177.6" fill="#a8fb00"/>
<polygon points="1573.3,176.4 1573.7,179.5 1577.2,182.2 1576.1,178.0" fill="#ffe900"/>
<polygon points="1573.6,176.9 1574.2,179.3 1576.9,181.8 1575.7,178.3" fill="#ff7800"/>
<polygon points="1582.3,215.5 1585.4,212.8 1585.5,207.1 1581.8,211.5" fill="#a8fb00"/>
<polygon points="1582.5,215.0 1584.9,212.5 1585.3,207.6 1582.3,211.6" fill="#ffe900"/>
<polygon points="1582.6,214.6 1584.5,212.3 1585.1,208.0 1582.8,211.6" fill="#ff7800"/>
<polygon points="1578.7,228.4 1581.8,227.8 1583.3,223.7 1579.2,225.2" fill="#a8fb00"/>
<polygon points="1579.0,228.1 1581.5,227.4 1583.0,224.1 1579.7,225.5" fill="#ffe900"/>
<polygon points="1579.4,227.7 1581.3,227.0 1582.6,224.4 1580.1,225.8" fill="#ff7800"/>
<polygon points="1688.4,163.7 1691.7,162.1 1691.7,180.1 1688.9,178.5" fill="#96fa00" stroke="#96fa00" stroke-width="1.2"/>
<polygon points="1688.4,163.7 1691.7,162.1 1691.7,180.1 1688.9,178.5" fill="#ffe900" stroke="#ffe900" stroke-width="0.0"/>
<polygon points="1683.4,162.5 1686.3,163.2 1688.5,160.0 1684.6,159.9" fill="#a8fb00"/>
<polygon points="1683.9,162.3 1686.1,162.7 1688.0,160.2 1685.0,160.3" fill="#ffe900"/>
<polygon points="1684.3,162.1 1686.0,162.2 1687.6,160.5 1685.3,160.7" fill="#ff7800"/>
<polygon points="1670.9,189.4 1671.6,194.6 1676.4,200.4 1674.7,193.0" fill="#96fa00"/>
<polygon points="1671.2,190.0 1672.2,194.4 1676.1,199.8 1674.2,193.4" fill="#ffe900"/>
<polygon points="1679.2,204.2 1679.2,208.5 1682.9,213.5 1682.2,207.3" fill="#96fa00"/>
<polygon points="1679.4,204.7 1679.8,208.4 1682.7,212.9 1681.7,207.6" fill="#ffe900"/>
<polygon points="1662.5,204.4 1668.1,210.2 1678.2,216.6 1669.6,208.3" fill="#96fa00"/>
<polygon points="1663.0,204.7 1668.5,209.8 1677.8,216.2 1669.3,208.8" fill="#ffff00"/>
<polygon points="1657.5,224.6 1662.4,224.6 1668.5,221.0 1661.4,221.7" fill="#96fa00"/>
<polygon points="1658.1,224.4 1662.3,224.0 1667.9,221.1 1661.7,222.2" fill="#ffe900"/>
<polygon points="1668.8,232.0 1669.6,235.0 1673.6,235.7 1671.9,231.9" fill="#a8fb00"/>
<polygon points="1669.2,232.3 1669.9,234.7 1673.2,235.4 1671.6,232.4" fill="#ffe900"/>
<polygon points="1669.6,232.6 1670.3,234.3 1672.8,235.1 1671.4,232.9" fill="#ff5a00"/>
<polygon points="1543.0,134.9 1547.3,135.0 1551.0,130.3 1545.1,131.1" fill="#b9fc00"/>
<polygon points="1543.4,134.6 1547.1,134.5 1550.5,130.5 1545.4,131.5" fill="#ffd400"/>
<polygon points="1543.8,134.4 1547.0,134.1 1550.2,130.7 1545.7,131.8" fill="#ff5a00"/>
<polygon points="1544.1,134.2 1546.9,133.7 1549.8,130.9 1545.9,132.1" fill="#ff2d00"/>
<polygon points="1682.3,122.3 1682.6,124.7 1685.5,126.5 1684.6,123.2" fill="#96fa00"/>
<polygon points="1682.7,122.7 1683.2,124.4 1685.1,126.0 1684.2,123.7" fill="#ffff00"/>
<polygon points="1565.9,114.0 1566.8,117.7 1570.7,121.6 1568.8,116.4" fill="#96fa00"/>
<polygon points="1566.2,114.5 1567.4,117.5 1570.3,121.1 1568.4,116.8" fill="#ffff00"/>
<polygon points="1646.9,132.2 1647.6,134.3 1650.4,134.6 1649.0,132.1" fill="#96fa00"/>
<polygon points="1647.4,132.6 1648.0,133.8 1649.9,134.2 1648.8,132.6" fill="#ffe900"/>
</g></g>
<text x="1617.9" y="78.9" font-size="27" fill="#000" text-anchor="middle" textLength="87.8" lengthAdjust="spacingAndGlyphs">AVG10</text>
<rect x="1594" y="245.3" width="97.7" height="15.8" fill="url(#jet)"/>
<text x="1480.5" y="263.90000000000003" font-size="26.5" fill="#000" textLength="105.4" lengthAdjust="spacingAndGlyphs">G, [Jm<tspan font-size="17.5" dy="-9.5">-2</tspan><tspan dy="9.5">]</tspan></text>
<text x="1602.3" y="287.8" font-size="26.5" fill="#000" text-anchor="middle">0</text>
<text x="1677.6" y="287.8" font-size="26.5" fill="#000" text-anchor="middle">5</text>
<filter id="f50" x="0" y="0" width="1" height="1" color-interpolation-filters="sRGB"><feGaussianBlur in="SourceGraphic" stdDeviation="1.5" result="b"/><feTurbulence type="fractalNoise" baseFrequency="0.025 0.07" numOctaves="2" seed="7" result="n"/><feTurbulence type="fractalNoise" baseFrequency="0.07 0.025" numOctaves="2" seed="14" result="m"/><feColorMatrix in="n" type="matrix" values="0.1 0 0 0 0 0.1 0 0 0 0 0.1 0 0 0 0 0 0 0 0 1" result="g"/><feColorMatrix in="m" type="matrix" values="0.1 0 0 0 0 0.1 0 0 0 0 0.1 0 0 0 0 0 0 0 0 1" result="h"/><feComposite in="b" in2="g" operator="arithmetic" k1="0" k2="1" k3="1" k4="-0.050" result="t"/><feComposite in="t" in2="h" operator="arithmetic" k1="0" k2="1" k3="1" k4="-0.050" result="s"/><feComponentTransfer in="s"><feFuncR type="table" tableValues="0 0 0 0 0 0 0 0 0 0 0 0 0 0 0 0.005 0.013 0.016 0.016 0.016 0.016 0.016 0.016 0.016 0.302 0.623 0.794 0.966 1 1 1 1 1 1 1 1 1 1 1 1 1"/><feFuncG type="table" tableValues="0 0.069 0.137 0.255 0.373 0.471 0.569 0.667 0.765 0.866 0.98 0.984 0.988 0.985 0.982 0.943 0.88 0.855 0.855 0.855 0.855 0.855 0.855 0.855 0.918 0.982 0.99 0.998 0.915 0.809 0.699 0.585 0.471 0.324 0.176 0.105 0.084 0.063 0.042 0.021 0"/><feFuncB type="table" tableValues="1 1 1 1 1 1 1 1 1 0.997 0.98 0.882 0.784 0.662 0.539 0.353 0.123 0.031 0.031 0.031 0.031 0.031 0.031 0.031 0.016 0 0 0 0 0 0 0 0 0 0 0 0 0 0 0 0"/></feComponentTransfer></filter>
<clipPath id="c50"><rect x="1865.3" y="89.6" width="146.2" height="137.1"/></clipPath>
<g clip-path="url(#c50)"><g transform="rotate(52 1938.4 158.1)" filter="url(#f50)"><g transform="rotate(-52 1938.4 158.1)">
<rect x="1857.3" y="81.6" width="162.2" height="153.1" fill="#212121"/>
<polygon points="1975.2,204.4 1985.6,197.3 1985.9,200.4 1979.6,206.4" fill="#333333"/>
<polygon points="1942.3,95.7 1949.8,105.9 1945.9,109.1 1938.8,100.9" fill="#1a1a1a"/>
<polygon points="1964.6,201.9 1969.2,194.9 1970.8,195.9 1967.0,202.3" fill="#1a1a1a"/>
<polygon points="1951.4,125.5 1960.4,119.2 1963.1,121.0 1955.5,127.2" fill="#1a1a1a"/>
<polygon points="1981.6,211.3 1991.9,205.2 1993.0,207.1 1985.2,213.6" fill="#1a1a1a"/>
<polygon points="1885.3,162.4 1900.3,176.7 1898.6,178.3 1885.5,166.5" fill="#2b2b2b"/>
<polygon points="1904.9,193.1 1914.7,205.6 1913.9,208.6 1904.7,198.3" fill="#2b2b2b"/>
<polygon points="1999.5,118.3 2005.7,125.8 2002.5,130.6 1995.4,124.7" fill="#333333"/>
<polygon points="1920.3,167.5 1924.4,175.6 1922.7,178.6 1916.1,170.1" fill="#333333"/>
<polygon points="1964.4,144.0 1970.7,132.3 1977.9,131.0 1970.6,145.3" fill="#2b2b2b"/>
<polygon points="1910.5,111.2 1921.2,104.9 1925.9,106.1 1916.7,114.2" fill="#333333"/>
<polygon points="1986.9,94.7 1993.7,105.6 1990.5,109.8 1980.8,99.6" fill="#2b2b2b"/>
<polygon points="1968.2,91.4 1975.9,101.5 1973.1,106.4 1962.3,97.3" fill="#1a1a1a"/>
<polygon points="1980.4,179.4 1988.9,171.6 1989.3,173.7 1981.2,182.0" fill="#333333"/>
<polygon points="1875.9,165.5 1884.5,160.1 1887.5,163.1 1880.3,169.8" fill="#1a1a1a"/>
<polygon points="1997.4,191.8 2005.3,179.9 2008.5,179.4 2001.0,191.5" fill="#1a1a1a"/>
<polygon points="1916.9,230.6 1925.2,219.3 1928.8,223.3 1922.6,231.5" fill="#1a1a1a"/>
<polygon points="1933.0,92.2 1939.9,101.6 1937.2,105.8 1930.1,95.5" fill="#333333"/>
<polygon points="1987.2,116.6 1993.6,107.8 1997.8,105.4 1989.3,118.4" fill="#1a1a1a"/>
<polygon points="1888.4,208.8 1899.0,199.5 1904.6,202.6 1893.2,213.7" fill="#333333"/>
<polygon points="1947.5,97.3 1955.4,89.2 1956.5,91.0 1950.7,97.7" fill="#2b2b2b"/>
<polygon points="1980.3,104.5 1990.8,96.0 1992.7,98.5 1983.1,107.1" fill="#2b2b2b"/>
<polygon points="1880.0,213.7 1886.8,207.3 1889.7,208.8 1884.8,215.9" fill="#333333"/>
<polygon points="1942.7,192.7 1949.5,200.4 1946.4,202.7 1939.8,199.3" fill="#2b2b2b"/>
<polygon points="1894.6,198.4 1897.7,192.8 1901.9,192.8 1898.1,201.1" fill="#2b2b2b"/>
<polygon points="1891.0,89.6 1956.3,89.6 1953.2,106.7 1928.3,120.7 1906.5,125.4 1898.7,108.3" fill="#383838"/>
<polygon points="1929.8,128.5 1947.0,125.4 1962.5,147.1 1959.4,165.8 1943.8,178.2 1911.2,176.6 1909.6,159.5 1917.4,144.0" fill="#131313"/>
<polygon points="1971.8,89.6 2011.5,89.6 2011.5,136.2 1999.8,123.8 1978.1,100.5" fill="#131313"/>
<polygon points="1911.2,181.3 1926.7,184.4 1925.2,209.3 1929.8,226.7 1912.7,226.7" fill="#131313"/>
<circle cx="1992.1" cy="187.5" r="7.0" fill="#131313"/>
<polygon points="1865.3,193.7 1877.0,196.9 1883.2,226.7 1865.3,226.7" fill="#161616"/>
<polygon points="1865.3,116.0 1875.4,119.1 1877.0,186.0 1865.3,186.0" fill="#383838"/>
<polygon points="2006.1,144.0 2011.5,144.0 2011.5,226.7 2004.5,226.7" fill="#333333"/>
<polyline points="1951.6,100.5 1968.7,123.8 2009.2,184.4" fill="none" stroke="#454545" stroke-width="2.2" stroke-linecap="round" stroke-linejoin="round"/>
<polyline points="2004.5,172.0 1962.5,209.3" fill="none" stroke="#404040" stroke-width="1.9" stroke-linecap="round" stroke-linejoin="round"/>
<polyline points="1978.1,178.2 1988.9,161.1" fill="none" stroke="#404040" stroke-width="1.6" stroke-linecap="round" stroke-linejoin="round"/>
<polyline points="1934.5,206.2 1953.2,218.6" fill="none" stroke="#404040" stroke-width="1.6" stroke-linecap="round" stroke-linejoin="round"/>
<polyline points="1961.0,170.4 1975.0,196.9" fill="none" stroke="#3d3d3d" stroke-width="1.9" stroke-linecap="round" stroke-linejoin="round"/>
<polyline points="1968.7,136.2 1987.4,112.9 1999.8,103.6" fill="none" stroke="#3d3d3d" stroke-width="1.9" stroke-linecap="round" stroke-linejoin="round"/>
<polyline points="1929.8,186.0 1940.7,178.2 1947.0,196.9" fill="none" stroke="#383838" stroke-width="2.2" stroke-linecap="round" stroke-linejoin="round"/>
<polygon points="1865.3,89.6 1881.6,89.6 1891.0,100.5 1903.4,116.0 1911.2,131.6 1913.5,154.9 1906.5,178.2 1911.2,201.5 1912.0,226.7 1884.7,226.7 1881.6,201.5 1877.0,178.2 1873.9,147.1 1869.2,123.8 1865.3,106.7" fill="#6c6c6c"/>
<polygon points="1872.3,140.9 1889.4,137.8 1891.0,159.5 1887.9,178.2 1877.0,176.6" fill="#545454"/>
<polygon points="1898.7,140.9 1912.0,147.1 1911.2,162.7 1901.8,165.8" fill="#575757"/>
<polygon points="1895.6,203.1 1909.6,203.1 1910.4,224.8 1898.7,224.8" fill="#575757"/>
<polyline points="1922.1,105.1 1934.5,95.8" fill="none" stroke="#6c6c6c" stroke-width="2.2" stroke-linecap="round" stroke-linejoin="round"/>
</g></g>
<g filter="url(#hb)" stroke-linecap="round" stroke-linejoin="round">
<polygon points="1878.2,89.6 1881.3,90.8 1876.7,100.5 1869.5,105.9 1866.1,103.3 1873.1,98.6" fill="#b9fc00" stroke="#b9fc00" stroke-width="2.6"/>
<polygon points="1878.2,89.6 1881.3,90.8 1876.7,100.5 1869.5,105.9 1866.1,103.3 1873.1,98.6" fill="#ffd400" stroke="#ffd400" stroke-width="1.6"/>
<polygon points="1878.2,89.6 1881.3,90.8 1876.7,100.5 1869.5,105.9 1866.1,103.3 1873.1,98.6" fill="#ff5a00" stroke="#ff5a00" stroke-width="0.8"/>
<polygon points="1878.2,89.6 1881.3,90.8 1876.7,100.5 1869.5,105.9 1866.1,103.3 1873.1,98.6" fill="#ff0b00" stroke="#ff0b00" stroke-width="0.0"/>
<polygon points="1873.5,103.1 1875.2,109.0 1881.2,115.8 1877.9,107.3" fill="#96fa00"/>
<polygon points="1873.9,103.6 1875.8,108.8 1880.9,115.2 1877.5,107.8" fill="#ffd400"/>
<polygon points="1866.0,103.0 1865.0,106.7 1866.9,112.0 1867.7,106.4" fill="#96fa00"/>
<polygon points="1866.1,103.6 1865.6,106.8 1866.9,111.4 1867.2,106.6" fill="#ffd400"/>
<polygon points="1883.0,204.9 1890.3,205.2 1899.7,200.0 1889.0,200.7" fill="#a8fb00"/>
<polygon points="1883.5,204.8 1890.3,204.7 1899.2,200.1 1889.3,201.1" fill="#ffe900"/>
<polygon points="1884.0,204.6 1890.3,204.2 1898.7,200.3 1889.5,201.6" fill="#ff7800"/>
<polygon points="1893.1,221.2 1892.0,224.2 1895.0,227.3 1895.8,223.0" fill="#96fa00"/>
<polygon points="1893.3,221.7 1892.6,224.1 1894.9,226.7 1895.2,223.3" fill="#dcfd00"/>
<circle cx="1897.2" cy="140.1" r="2.4" fill="#a8fb00"/>
<circle cx="1897.2" cy="140.1" r="1.9" fill="#ffe900"/>
<circle cx="1897.2" cy="140.1" r="1.4" fill="#ff8f00"/>
<circle cx="1893.3" cy="156.4" r="2.1" fill="#a8fb00"/>
<circle cx="1893.3" cy="156.4" r="1.6" fill="#ffe900"/>
<circle cx="1893.3" cy="156.4" r="1.1" fill="#ff8f00"/>
<polygon points="1901.0,120.1 1900.2,122.6 1901.9,125.9 1902.5,122.2" fill="#96fa00"/>
<polygon points="1901.1,120.7 1900.8,122.6 1901.8,125.4 1902.0,122.5" fill="#ffff00"/>
</g></g>
<text x="1935.6" y="79.7" font-size="27" fill="#000" text-anchor="middle" textLength="88.5" lengthAdjust="spacingAndGlyphs">AVG50</text>
<rect x="1911.1" y="237.7" width="97.6" height="15.6" fill="url(#jet)"/>
<text x="1797.8" y="255.9" font-size="26.5" fill="#000" textLength="104.9" lengthAdjust="spacingAndGlyphs">G, [Jm<tspan font-size="17.5" dy="-9.5">-2</tspan><tspan dy="9.5">]</tspan></text>
<text x="1918.5" y="281.2" font-size="26.5" fill="#000" text-anchor="middle">0</text>
<text x="1998.9" y="281.2" font-size="26.5" fill="#000" text-anchor="middle">60</text>
<filter id="f30" x="0" y="0" width="1" height="1" color-interpolation-filters="sRGB"><feGaussianBlur in="SourceGraphic" stdDeviation="1.2" result="b"/><feTurbulence type="fractalNoise" baseFrequency="0.03 0.1" numOctaves="2" seed="11" result="n"/><feTurbulence type="fractalNoise" baseFrequency="0.1 0.03" numOctaves="2" seed="18" result="m"/><feColorMatrix in="n" type="matrix" values="0.24 0 0 0 0 0.24 0 0 0 0 0.24 0 0 0 0 0 0 0 0 1" result="g"/><feColorMatrix in="m" type="matrix" values="0.24 0 0 0 0 0.24 0 0 0 0 0.24 0 0 0 0 0 0 0 0 1" result="h"/><feComposite in="b" in2="g" operator="arithmetic" k1="0" k2="1" k3="1" k4="-0.120" result="t"/><feComposite in="t" in2="h" operator="arithmetic" k1="0" k2="1" k3="1" k4="-0.120" result="s"/><feComponentTransfer in="s"><feFuncR type="table" tableValues="0 0 0 0 0 0 0 0 0 0 0 0 0 0 0 0.005 0.013 0.016 0.016 0.016 0.016 0.016 0.016 0.016 0.302 0.623 0.794 0.966 1 1 1 1 1 1 1 1 1 1 1 1 1"/><feFuncG type="table" tableValues="0 0.069 0.137 0.255 0.373 0.471 0.569 0.667 0.765 0.866 0.98 0.984 0.988 0.985 0.982 0.943 0.88 0.855 0.855 0.855 0.855 0.855 0.855 0.855 0.918 0.982 0.99 0.998 0.915 0.809 0.699 0.585 0.471 0.324 0.176 0.105 0.084 0.063 0.042 0.021 0"/><feFuncB type="table" tableValues="1 1 1 1 1 1 1 1 1 0.997 0.98 0.882 0.784 0.662 0.539 0.353 0.123 0.031 0.031 0.031 0.031 0.031 0.031 0.031 0.016 0 0 0 0 0 0 0 0 0 0 0 0 0 0 0 0"/></feComponentTransfer></filter>
<clipPath id="c30"><rect x="1646.7" y="333.0" width="151.3" height="150.4"/></clipPath>
<g clip-path="url(#c30)"><g transform="rotate(50 1722.4 408.2)" filter="url(#f30)"><g transform="rotate(-50 1722.4 408.2)">
<rect x="1638.7" y="325.0" width="167.3" height="166.4" fill="#4a4a4a"/>
<polygon points="1677.8,417.6 1684.2,410.6 1687.3,411.8 1682.4,418.9" fill="#3d3d3d"/>
<polygon points="1677.1,359.0 1685.0,349.2 1686.5,352.1 1680.3,361.4" fill="#545454"/>
<polygon points="1755.5,467.2 1757.9,473.6 1754.4,476.4 1750.0,469.4" fill="#545454"/>
<polygon points="1718.9,393.7 1724.0,385.8 1727.1,387.3 1724.1,395.8" fill="#333333"/>
<polygon points="1751.2,358.9 1760.6,367.6 1757.6,369.9 1750.3,364.0" fill="#545454"/>
<polygon points="1775.3,333.9 1782.0,343.0 1781.0,343.5 1775.1,336.9" fill="#545454"/>
<polygon points="1688.4,364.8 1696.2,374.8 1693.5,379.1 1685.0,371.6" fill="#5c5c5c"/>
<polygon points="1710.5,437.7 1715.0,443.3 1712.8,444.5 1709.1,439.7" fill="#5c5c5c"/>
<polygon points="1716.3,431.0 1722.3,436.9 1719.6,439.5 1713.4,435.4" fill="#5c5c5c"/>
<polygon points="1757.5,460.8 1762.1,455.4 1765.4,458.3 1762.0,463.3" fill="#545454"/>
<polygon points="1738.8,350.6 1746.5,342.4 1751.5,344.0 1744.4,352.0" fill="#3d3d3d"/>
<polygon points="1694.4,452.2 1698.3,462.0 1694.7,464.6 1690.2,457.0" fill="#545454"/>
<polygon points="1686.7,418.5 1692.6,415.6 1694.6,417.9 1690.4,421.2" fill="#5c5c5c"/>
<polygon points="1725.9,461.5 1736.3,470.0 1732.0,472.8 1723.6,465.4" fill="#545454"/>
<polygon points="1756.8,354.4 1763.3,359.0 1761.6,363.3 1756.3,359.1" fill="#333333"/>
<polygon points="1723.8,456.4 1728.3,451.7 1730.9,454.1 1728.6,459.5" fill="#545454"/>
<polygon points="1689.5,456.8 1700.8,450.2 1702.5,453.3 1693.5,461.2" fill="#545454"/>
<polygon points="1732.4,387.4 1737.7,383.9 1738.5,386.5 1734.3,390.4" fill="#333333"/>
<polygon points="1739.3,393.1 1744.5,399.6 1743.5,402.6 1737.3,396.8" fill="#333333"/>
<polygon points="1784.7,382.0 1795.8,392.2 1793.0,395.6 1783.5,388.5" fill="#333333"/>
<polygon points="1767.2,437.7 1774.6,443.5 1771.8,444.2 1766.1,440.3" fill="#545454"/>
<polygon points="1768.3,479.9 1773.3,471.3 1777.2,473.1 1774.4,481.6" fill="#3d3d3d"/>
<polygon points="1770.6,365.7 1775.4,370.8 1773.8,372.5 1768.4,368.5" fill="#3d3d3d"/>
<polygon points="1708.1,412.4 1714.2,419.6 1712.2,424.2 1703.5,417.7" fill="#3d3d3d"/>
<polygon points="1663.6,447.7 1667.5,442.3 1670.6,443.8 1668.0,450.1" fill="#5c5c5c"/>
<polygon points="1648.1,401.1 1653.9,407.1 1653.5,409.3 1646.5,403.9" fill="#333333"/>
<polygon points="1714.6,444.6 1723.3,434.9 1726.7,435.7 1717.7,445.8" fill="#5c5c5c"/>
<polygon points="1664.7,423.1 1671.4,428.8 1670.9,430.3 1662.8,423.5" fill="#545454"/>
<polygon points="1734.5,432.0 1737.3,435.8 1735.1,437.0 1731.9,433.8" fill="#545454"/>
<polygon points="1661.0,460.6 1668.6,472.1 1668.2,474.7 1660.2,463.6" fill="#5c5c5c"/>
<polygon points="1747.7,410.2 1752.1,414.4 1750.6,416.9 1745.2,414.3" fill="#545454"/>
<polygon points="1664.5,469.5 1667.8,474.8 1665.8,476.1 1662.2,472.0" fill="#545454"/>
<polygon points="1696.1,373.7 1702.0,368.1 1706.6,370.1 1700.2,377.5" fill="#545454"/>
<polygon points="1771.3,352.9 1776.8,346.1 1778.3,346.8 1773.2,353.4" fill="#3d3d3d"/>
<polygon points="1772.5,454.9 1779.0,449.8 1782.6,449.6 1774.7,456.5" fill="#5c5c5c"/>
<polygon points="1739.6,475.7 1747.0,481.6 1746.4,484.0 1737.8,478.1" fill="#3d3d3d"/>
<polygon points="1650.7,401.6 1656.4,413.4 1653.1,413.1 1649.3,405.5" fill="#333333"/>
<polygon points="1779.4,384.1 1790.5,377.4 1796.3,378.0 1785.0,385.9" fill="#3d3d3d"/>
<polygon points="1708.1,450.1 1715.3,443.0 1716.4,444.6 1711.4,450.0" fill="#333333"/>
<polygon points="1713.7,449.6 1718.6,442.6 1719.9,443.8 1716.6,450.2" fill="#3d3d3d"/>
<polygon points="1698.2,404.6 1730.6,404.6 1730.6,447.2 1698.2,447.2" fill="#2b2b2b"/>
<polygon points="1752.8,409.7 1778.4,409.7 1778.4,447.2 1752.8,447.2" fill="#2b2b2b"/>
<polygon points="1684.6,333.0 1713.6,333.0 1713.6,362.0 1684.6,362.0" fill="#333333"/>
<polygon points="1751.1,338.1 1783.5,338.1 1783.5,384.2 1761.3,384.2" fill="#2e2e2e"/>
<polygon points="1727.2,438.7 1778.4,464.3 1778.4,483.4 1727.2,483.4" fill="#2b2b2b"/>
<polygon points="1646.7,370.5 1664.1,370.5 1664.1,423.4 1646.7,423.4" fill="#333333"/>
<polygon points="1646.7,333.0 1676.0,333.0 1682.9,344.9 1664.1,362.0 1646.7,368.8" fill="#6c6c6c"/>
<polygon points="1675.2,370.5 1696.5,368.0 1696.5,396.1 1690.5,430.2 1693.9,464.3 1700.8,483.4 1665.0,483.4 1666.7,447.2 1670.1,413.1 1671.8,387.6" fill="#6c6c6c"/>
<polyline points="1676.0,333.0 1698.2,370.5" fill="none" stroke="#6c6c6c" stroke-width="6.1" stroke-linecap="round" stroke-linejoin="round"/>
<polyline points="1713.6,334.7 1689.7,384.2" fill="none" stroke="#6c6c6c" stroke-width="6.8" stroke-linecap="round" stroke-linejoin="round"/>
<polyline points="1723.8,344.9 1747.7,370.5 1768.1,384.2 1795.4,413.1" fill="none" stroke="#6c6c6c" stroke-width="4.8" stroke-linecap="round" stroke-linejoin="round"/>
<polyline points="1730.6,416.6 1783.5,469.4" fill="none" stroke="#6c6c6c" stroke-width="5.5" stroke-linecap="round" stroke-linejoin="round"/>
<polyline points="1798.0,423.4 1761.3,457.5" fill="none" stroke="#6c6c6c" stroke-width="4.8" stroke-linecap="round" stroke-linejoin="round"/>
<polyline points="1722.1,430.2 1715.3,481.4" fill="none" stroke="#6c6c6c" stroke-width="4.8" stroke-linecap="round" stroke-linejoin="round"/>
<polyline points="1744.3,336.4 1734.0,356.9" fill="none" stroke="#6c6c6c" stroke-width="5.1" stroke-linecap="round" stroke-linejoin="round"/>
<polygon points="1792.0,399.5 1798.0,399.5 1798.0,433.6 1790.3,430.2" fill="#6c6c6c"/>
<polyline points="1646.7,399.5 1664.1,392.7" fill="none" stroke="#696969" stroke-width="5.1" stroke-linecap="round" stroke-linejoin="round"/>
<polyline points="1781.8,483.4 1778.4,464.3" fill="none" stroke="#696969" stroke-width="5.1" stroke-linecap="round" stroke-linejoin="round"/>
<polygon points="1646.7,368.8 1655.6,372.2 1652.2,385.9 1646.7,389.3" fill="#131313"/>
<polygon points="1659.0,406.3 1667.5,402.9 1670.1,413.1 1662.4,420.0 1656.4,414.9" fill="#161616"/>
<polygon points="1646.7,425.1 1657.3,428.5 1660.7,447.2 1653.9,464.3 1646.7,464.3" fill="#131313"/>
<polygon points="1698.2,394.4 1708.4,396.1 1709.3,404.6 1701.6,413.1 1699.1,404.6" fill="#161616"/>
<polygon points="1732.3,391.0 1746.0,386.7 1752.8,392.7 1756.2,402.9 1751.1,406.3 1734.0,399.5" fill="#131313"/>
<polygon points="1776.7,404.6 1786.9,403.8 1790.3,416.6 1780.1,423.4 1773.3,420.0" fill="#131313"/>
<polygon points="1773.3,367.1 1780.1,363.7 1786.1,379.0 1781.8,382.5 1775.0,375.6" fill="#161616"/>
<polygon points="1783.5,333.0 1798.0,333.0 1798.0,350.1 1788.6,353.5" fill="#161616"/>
<polygon points="1717.0,360.3 1722.1,367.1 1715.3,372.2 1711.9,368.8" fill="#181818"/>
<polygon points="1698.2,443.8 1706.7,445.5 1705.0,455.8 1694.8,454.1" fill="#161616"/>
<polygon points="1732.3,443.8 1744.3,447.2 1747.7,457.5 1737.4,464.3 1730.6,459.2" fill="#131313"/>
<polygon points="1737.4,472.8 1771.6,471.1 1768.1,483.4 1737.4,483.4" fill="#161616"/>
<polygon points="1790.3,454.1 1798.0,454.1 1798.0,460.9 1792.0,459.2" fill="#181818"/>
<polygon points="1759.6,425.1 1768.1,430.2 1764.7,437.0 1757.9,433.6" fill="#181818"/>
<polygon points="1717.0,416.6 1727.2,423.4 1722.1,430.2 1715.3,425.1" fill="#1b1b1b"/>
<polygon points="1746.0,333.0 1754.5,333.9 1751.1,339.0" fill="#1b1b1b"/>
</g></g>
<g filter="url(#hb)" stroke-linecap="round" stroke-linejoin="round">
<polygon points="1666.5,393.8 1670.2,394.8 1674.4,391.6 1669.2,391.0" fill="#a8fb00"/>
<polygon points="1667.0,393.7 1670.2,394.3 1674.0,391.7 1669.4,391.5" fill="#ffe900"/>
<polygon points="1667.5,393.5 1670.2,393.8 1673.5,391.8 1669.6,391.9" fill="#ff7800"/>
<polygon points="1687.5,398.6 1690.3,407.8 1687.3,413.9 1694.2,408.3" fill="#a8fb00"/>
<polygon points="1687.8,399.1 1690.8,407.9 1687.7,413.5 1693.7,408.2" fill="#ffe900"/>
<polygon points="1688.0,399.5 1691.3,407.9 1688.0,413.1 1693.2,408.1" fill="#ff8f00"/>
<polygon points="1668.0,427.5 1665.1,431.3 1665.9,438.0 1669.3,432.1" fill="#a8fb00"/>
<polygon points="1667.9,428.0 1665.5,431.5 1666.0,437.5 1668.8,432.1" fill="#ffe900"/>
<polygon points="1667.9,428.5 1666.0,431.7 1666.1,437.0 1668.3,432.1" fill="#ff7800"/>
<polygon points="1681.1,433.0 1680.1,439.1 1682.6,447.8 1683.2,438.8" fill="#96fa00"/>
<polygon points="1681.2,433.6 1680.7,439.2 1682.5,447.2 1682.7,439.0" fill="#ffd400"/>
<circle cx="1682.2" cy="448.6" r="2.5" fill="#b9fc00"/>
<circle cx="1682.2" cy="448.6" r="2.0" fill="#ffd400"/>
<circle cx="1682.2" cy="448.6" r="1.6" fill="#ff5a00"/>
<circle cx="1682.2" cy="448.6" r="1.2" fill="#ff0f00"/>
<polygon points="1682.5,453.6 1683.0,456.8 1686.6,459.7 1685.3,455.3" fill="#96fa00"/>
<polygon points="1682.9,454.1 1683.6,456.5 1686.3,459.2 1684.8,455.7" fill="#ffd400"/>
<polygon points="1670.9,470.2 1672.6,475.5 1679.5,479.8 1676.0,472.5" fill="#b9fc00"/>
<polygon points="1671.2,470.5 1673.1,475.2 1679.1,479.4 1675.7,472.9" fill="#ffd400"/>
<polygon points="1671.5,470.8 1673.4,475.0 1678.9,479.1 1675.5,473.2" fill="#ff5a00"/>
<polygon points="1671.8,471.1 1673.8,474.8 1678.6,478.8 1675.2,473.6" fill="#ff2d00"/>
<polygon points="1695.4,358.9 1695.4,362.0 1698.5,365.1 1697.8,360.8" fill="#96fa00"/>
<polygon points="1695.7,359.4 1696.0,361.8 1698.2,364.5 1697.3,361.1" fill="#ffe900"/>
<polygon points="1734.2,354.5 1735.5,358.4 1740.7,361.0 1738.1,355.8" fill="#a8fb00"/>
<polygon points="1734.5,354.8 1735.9,358.1 1740.4,360.6 1737.8,356.2" fill="#ffe900"/>
<polygon points="1734.9,355.2 1736.3,357.8 1740.0,360.3 1737.5,356.6" fill="#ff7800"/>
<polygon points="1788.5,405.3 1787.2,409.1 1789.6,414.1 1790.7,408.6" fill="#a8fb00"/>
<polygon points="1788.6,405.8 1787.7,409.1 1789.5,413.6 1790.2,408.8" fill="#ffe900"/>
<polygon points="1788.6,406.3 1788.2,409.1 1789.5,413.1 1789.7,409.0" fill="#ff8f00"/>
<polygon points="1671.7,400.6 1670.9,406.0 1672.7,413.7 1673.3,405.8" fill="#96fa00"/>
<polygon points="1671.8,401.2 1671.5,406.0 1672.6,413.1 1672.8,405.9" fill="#ffff00"/>
</g></g>
<text x="1722.1" y="322.9" font-size="27" fill="#000" text-anchor="middle" textLength="89.0" lengthAdjust="spacingAndGlyphs">AVG30</text>
<rect x="1701.7" y="494.0" width="96.6" height="16.5" fill="url(#jet)"/>
<text x="1587.1" y="513.1999999999999" font-size="26.5" fill="#000" textLength="105.5" lengthAdjust="spacingAndGlyphs">G, [Jm<tspan font-size="17.5" dy="-9.5">-2</tspan><tspan dy="9.5">]</tspan></text>
<text x="1709.7" y="537.2" font-size="26.5" fill="#000" text-anchor="middle">0</text>
<text x="1784.2" y="537.2" font-size="26.5" fill="#000" text-anchor="middle">12</text>
<filter id="f20" x="0" y="0" width="1" height="1" color-interpolation-filters="sRGB"><feGaussianBlur in="SourceGraphic" stdDeviation="1.0" result="b"/><feTurbulence type="fractalNoise" baseFrequency="0.04 0.13" numOctaves="2" seed="5" result="n"/><feTurbulence type="fractalNoise" baseFrequency="0.13 0.04" numOctaves="2" seed="12" result="m"/><feColorMatrix in="n" type="matrix" values="0.42 0 0 0 0 0.42 0 0 0 0 0.42 0 0 0 0 0 0 0 0 1" result="g"/><feColorMatrix in="m" type="matrix" values="0.42 0 0 0 0 0.42 0 0 0 0 0.42 0 0 0 0 0 0 0 0 1" result="h"/><feComposite in="b" in2="g" operator="arithmetic" k1="0" k2="1" k3="1" k4="-0.210" result="t"/><feComposite in="t" in2="h" operator="arithmetic" k1="0" k2="1" k3="1" k4="-0.210" result="s"/><feComponentTransfer in="s"><feFuncR type="table" tableValues="0 0 0 0 0 0 0 0 0 0 0 0 0 0 0 0.005 0.013 0.016 0.016 0.016 0.016 0.016 0.016 0.016 0.302 0.623 0.794 0.966 1 1 1 1 1 1 1 1 1 1 1 1 1"/><feFuncG type="table" tableValues="0.529 0.529 0.529 0.529 0.529 0.529 0.569 0.667 0.765 0.866 0.98 0.984 0.988 0.985 0.982 0.943 0.88 0.855 0.855 0.855 0.855 0.855 0.855 0.855 0.918 0.982 0.99 0.998 0.915 0.809 0.699 0.585 0.471 0.324 0.176 0.105 0.084 0.063 0.042 0.021 0"/><feFuncB type="table" tableValues="1 1 1 1 1 1 1 1 1 0.997 0.98 0.882 0.784 0.662 0.539 0.353 0.123 0.031 0.031 0.031 0.031 0.031 0.031 0.031 0.016 0 0 0 0 0 0 0 0 0 0 0 0 0 0 0 0"/></feComponentTransfer></filter>
<clipPath id="c20"><rect x="1414.2" y="501.2" width="152.9" height="152.3"/></clipPath>
<g clip-path="url(#c20)"><g transform="rotate(52 1490.7 577.4)" filter="url(#f20)"><g transform="rotate(-52 1490.7 577.4)">
<rect x="1406.2" y="493.2" width="168.9" height="168.3" fill="#777777"/>
<polygon points="1478.6,558.1 1485.3,552.5 1491.7,556.8 1486.6,563.9" fill="#454545"/>
<polygon points="1433.1,539.2 1438.5,533.5 1443.3,534.4 1438.5,541.6" fill="#5c5c5c"/>
<polygon points="1550.2,565.0 1555.8,556.0 1557.8,556.7 1553.0,565.7" fill="#4c4c4c"/>
<polygon points="1520.5,536.7 1537.7,523.7 1538.8,526.9 1527.9,537.5" fill="#616161"/>
<polygon points="1431.7,636.5 1442.1,649.5 1443.1,654.2 1430.3,639.4" fill="#545454"/>
<polygon points="1431.2,581.7 1440.7,569.8 1446.5,573.1 1438.6,586.9" fill="#616161"/>
<polygon points="1464.3,562.0 1468.4,570.9 1465.1,573.0 1460.2,565.2" fill="#545454"/>
<polygon points="1495.6,502.5 1505.7,515.7 1505.8,519.8 1496.1,508.8" fill="#545454"/>
<polygon points="1450.4,527.1 1457.3,522.1 1458.7,524.4 1452.3,529.6" fill="#4c4c4c"/>
<polygon points="1523.5,549.1 1530.2,540.9 1533.6,543.1 1528.4,551.4" fill="#4c4c4c"/>
<polygon points="1548.3,543.0 1556.5,538.8 1561.5,542.6 1555.8,548.4" fill="#616161"/>
<polygon points="1553.6,573.9 1567.2,591.9 1565.5,592.8 1553.2,578.0" fill="#545454"/>
<polygon points="1425.0,610.5 1432.1,601.2 1437.3,601.5 1429.0,613.6" fill="#616161"/>
<polygon points="1498.6,596.0 1509.8,589.5 1514.5,590.4 1502.1,600.9" fill="#4c4c4c"/>
<polygon points="1458.4,622.3 1463.9,616.5 1470.5,619.1 1467.7,624.4" fill="#4c4c4c"/>
<polygon points="1416.6,518.4 1425.4,505.6 1427.3,506.7 1419.8,518.8" fill="#454545"/>
<polygon points="1448.0,586.0 1462.7,599.2 1458.6,601.1 1444.9,592.7" fill="#5c5c5c"/>
<polygon points="1534.5,629.7 1541.1,645.0 1536.4,649.8 1526.6,631.8" fill="#545454"/>
<polygon points="1425.6,539.9 1432.3,549.9 1429.1,554.8 1418.5,545.7" fill="#545454"/>
<polygon points="1553.3,504.1 1566.5,516.9 1564.0,525.0 1549.3,513.4" fill="#616161"/>
<polygon points="1485.6,569.1 1491.7,568.0 1495.3,572.0 1491.7,578.3" fill="#454545"/>
<polygon points="1469.8,582.6 1481.3,595.8 1479.5,600.6 1466.6,586.4" fill="#4c4c4c"/>
<polygon points="1449.7,583.7 1462.7,573.0 1464.9,576.5 1454.0,587.4" fill="#616161"/>
<polygon points="1449.5,556.5 1459.3,547.6 1464.6,549.3 1454.4,559.9" fill="#616161"/>
<polygon points="1557.5,648.4 1571.0,636.2 1573.8,639.4 1565.3,650.0" fill="#5c5c5c"/>
<polygon points="1447.8,543.6 1456.3,530.4 1459.2,535.0 1453.7,545.1" fill="#5c5c5c"/>
<polygon points="1456.2,516.0 1461.5,525.9 1460.1,528.0 1453.7,517.4" fill="#616161"/>
<polygon points="1547.5,562.3 1556.6,551.6 1564.6,551.8 1555.7,568.3" fill="#616161"/>
<polygon points="1560.3,572.8 1567.1,583.5 1564.5,587.5 1556.2,578.3" fill="#4c4c4c"/>
<polygon points="1455.0,541.3 1457.4,547.8 1453.1,550.9 1448.9,544.6" fill="#4c4c4c"/>
<polygon points="1441.4,530.7 1454.8,547.7 1453.2,552.0 1439.2,535.9" fill="#454545"/>
<polygon points="1461.3,593.1 1478.5,606.5 1478.8,611.1 1461.5,598.5" fill="#5c5c5c"/>
<polygon points="1537.0,598.4 1544.5,607.4 1541.7,608.9 1535.1,602.8" fill="#454545"/>
<polygon points="1416.1,561.4 1422.4,568.6 1420.7,574.5 1410.3,567.3" fill="#5c5c5c"/>
<polygon points="1512.0,627.5 1527.2,641.0 1528.6,645.0 1511.5,631.7" fill="#5c5c5c"/>
<polygon points="1561.6,571.0 1570.5,587.6 1569.3,589.3 1557.8,570.9" fill="#454545"/>
<polygon points="1512.5,589.0 1525.6,571.5 1528.5,576.2 1520.1,590.9" fill="#5c5c5c"/>
<polygon points="1491.1,561.2 1499.1,570.9 1495.7,575.4 1484.2,567.3" fill="#5c5c5c"/>
<polygon points="1554.4,641.9 1558.7,650.4 1554.1,653.7 1547.3,646.8" fill="#4c4c4c"/>
<polygon points="1495.9,503.1 1510.5,516.4 1509.7,522.5 1492.6,510.9" fill="#545454"/>
<polygon points="1446.4,559.6 1454.5,552.0 1458.2,556.2 1453.8,563.7" fill="#545454"/>
<polygon points="1522.6,597.7 1531.1,586.9 1534.2,590.3 1527.7,599.7" fill="#4c4c4c"/>
<polygon points="1422.3,504.8 1431.3,494.9 1438.6,495.7 1430.8,508.2" fill="#545454"/>
<polygon points="1447.4,533.4 1460.3,516.8 1462.8,517.9 1452.1,532.4" fill="#5c5c5c"/>
<polygon points="1498.0,577.0 1509.5,568.1 1510.9,570.7 1502.1,578.3" fill="#454545"/>
<polygon points="1545.0,606.2 1556.4,617.6 1550.5,622.1 1540.0,614.2" fill="#4c4c4c"/>
<polygon points="1538.5,610.7 1544.6,605.7 1550.2,608.6 1544.0,614.2" fill="#4c4c4c"/>
<polygon points="1444.6,499.6 1455.2,514.9 1451.7,514.7 1441.8,502.2" fill="#545454"/>
<polygon points="1520.4,610.9 1537.8,598.0 1539.7,604.1 1529.5,615.5" fill="#454545"/>
<polygon points="1491.0,542.1 1502.0,552.5 1500.2,556.1 1489.8,547.9" fill="#545454"/>
<polygon points="1460.9,590.1 1471.3,599.2 1471.3,602.7 1458.0,592.3" fill="#454545"/>
<polygon points="1536.3,584.8 1543.1,572.6 1545.8,573.7 1540.1,585.2" fill="#616161"/>
<polygon points="1514.4,607.4 1520.8,616.5 1518.4,622.0 1511.3,615.3" fill="#5c5c5c"/>
<polygon points="1420.4,558.4 1427.1,566.2 1427.6,569.6 1418.2,560.7" fill="#4c4c4c"/>
<polygon points="1505.4,640.0 1517.6,649.2 1516.1,652.7 1503.5,644.1" fill="#545454"/>
<polygon points="1561.8,550.9 1566.1,561.2 1559.7,565.5 1554.1,555.4" fill="#5c5c5c"/>
<polygon points="1473.2,561.6 1480.8,552.2 1486.5,553.4 1480.5,564.9" fill="#616161"/>
<polygon points="1526.2,633.6 1535.7,640.9 1533.6,642.6 1524.2,635.4" fill="#454545"/>
<polygon points="1444.7,499.3 1453.8,516.6 1450.9,519.8 1443.1,506.9" fill="#616161"/>
<polygon points="1409.5,522.3 1416.2,513.2 1419.8,513.7 1414.2,522.3" fill="#616161"/>
<polygon points="1457.7,503.8 1463.1,499.7 1467.3,502.4 1463.9,507.6" fill="#4c4c4c"/>
<polygon points="1468.4,616.9 1477.8,608.8 1483.4,608.6 1471.2,619.7" fill="#4c4c4c"/>
<polygon points="1458.4,500.0 1462.2,505.2 1458.1,510.3 1453.1,505.1" fill="#4c4c4c"/>
<polygon points="1521.4,618.0 1524.8,611.2 1530.8,611.5 1527.2,620.7" fill="#454545"/>
<polygon points="1478.9,606.9 1483.0,616.8 1478.5,621.0 1472.7,610.5" fill="#616161"/>
<polygon points="1442.6,641.6 1447.5,635.0 1451.1,636.7 1449.1,644.3" fill="#4c4c4c"/>
<polygon points="1531.0,565.7 1537.2,572.1 1531.5,575.8 1526.6,571.3" fill="#616161"/>
<polygon points="1467.8,629.7 1478.6,645.9 1474.4,648.5 1464.8,636.8" fill="#454545"/>
<polygon points="1409.3,648.2 1426.3,636.9 1431.9,635.9 1414.6,648.7" fill="#545454"/>
<polygon points="1536.6,567.3 1545.1,558.1 1549.2,563.6 1543.9,572.0" fill="#545454"/>
<polygon points="1560.6,633.6 1569.2,650.3 1566.9,652.4 1557.4,635.9" fill="#5c5c5c"/>
<polygon points="1508.1,510.0 1520.4,525.3 1519.9,531.3 1506.4,516.1" fill="#5c5c5c"/>
<polygon points="1449.9,646.4 1455.8,635.3 1461.8,638.7 1456.9,648.7" fill="#454545"/>
<polygon points="1510.0,506.3 1516.3,497.4 1518.8,497.6 1513.0,507.4" fill="#616161"/>
<polygon points="1492.2,575.2 1509.1,561.3 1513.9,564.8 1499.3,578.0" fill="#454545"/>
<polygon points="1517.7,638.7 1522.9,645.5 1518.6,650.5 1511.3,645.0" fill="#616161"/>
<polygon points="1464.3,649.2 1471.4,643.5 1476.0,644.1 1468.6,652.2" fill="#454545"/>
<polygon points="1468.1,569.3 1478.9,559.7 1482.8,564.2 1473.9,573.6" fill="#454545"/>
<polygon points="1422.5,658.5 1433.6,645.0 1438.4,646.5 1430.0,659.4" fill="#4c4c4c"/>
<polygon points="1551.8,618.6 1564.3,635.7 1561.6,635.4 1551.5,621.9" fill="#454545"/>
<polygon points="1543.4,581.2 1550.9,572.5 1556.9,575.5 1551.4,584.6" fill="#4c4c4c"/>
<polygon points="1510.7,594.0 1524.5,610.3 1519.5,613.9 1506.7,601.2" fill="#616161"/>
<polygon points="1501.7,558.9 1508.2,555.0 1513.1,558.4 1505.0,565.4" fill="#545454"/>
<polygon points="1409.9,596.1 1422.0,580.2 1428.7,581.5 1419.5,597.5" fill="#4c4c4c"/>
<polygon points="1451.4,629.6 1457.6,624.4 1464.0,627.1 1460.1,635.3" fill="#454545"/>
<polygon points="1483.1,617.6 1495.6,608.3 1495.4,611.7 1486.6,619.0" fill="#4c4c4c"/>
<polygon points="1449.2,504.5 1456.7,517.9 1453.9,522.9 1443.6,508.0" fill="#454545"/>
<polygon points="1557.1,625.3 1563.9,611.5 1569.8,612.3 1562.8,627.9" fill="#454545"/>
<polygon points="1461.0,497.7 1465.5,504.8 1462.5,508.5 1457.5,502.9" fill="#5c5c5c"/>
<polygon points="1545.6,501.6 1561.2,520.4 1559.7,524.0 1543.9,508.2" fill="#4c4c4c"/>
<polygon points="1416.0,565.4 1419.3,573.5 1417.3,575.4 1412.6,567.9" fill="#4c4c4c"/>
<polygon points="1545.6,543.1 1554.6,527.4 1560.7,526.6 1552.8,545.5" fill="#5c5c5c"/>
<polygon points="1495.0,550.2 1508.2,535.7 1511.4,536.5 1500.6,550.9" fill="#616161"/>
<polygon points="1432.6,635.6 1440.0,628.5 1444.7,633.6 1441.0,639.6" fill="#4c4c4c"/>
<polygon points="1493.7,514.3 1502.6,506.9 1504.2,512.0 1497.7,517.9" fill="#616161"/>
<polygon points="1513.5,603.6 1525.7,621.3 1522.0,626.2 1506.2,611.1" fill="#5c5c5c"/>
<polygon points="1525.0,564.4 1532.9,581.8 1526.6,582.2 1518.5,567.2" fill="#454545"/>
<polygon points="1493.1,581.5 1501.9,589.0 1499.7,595.2 1489.7,587.0" fill="#4c4c4c"/>
<polygon points="1554.0,615.7 1556.1,625.3 1550.7,627.9 1545.4,620.8" fill="#5c5c5c"/>
<polygon points="1483.2,524.3 1487.7,532.9 1484.7,535.5 1478.6,528.2" fill="#545454"/>
<polygon points="1557.9,518.9 1566.9,527.3 1565.2,530.8 1554.8,523.6" fill="#4c4c4c"/>
<polygon points="1420.2,497.6 1430.4,506.6 1429.2,511.2 1417.6,502.5" fill="#545454"/>
<polygon points="1513.1,556.1 1521.6,564.5 1521.3,568.7 1510.7,559.5" fill="#616161"/>
<polygon points="1502.7,572.6 1505.9,566.1 1509.8,568.3 1507.6,575.1" fill="#454545"/>
<polygon points="1422.2,558.8 1429.7,572.2 1424.3,578.0 1416.1,565.6" fill="#5c5c5c"/>
<polygon points="1539.0,599.2 1549.9,613.3 1541.8,616.7 1531.5,606.3" fill="#5c5c5c"/>
<polygon points="1448.8,603.2 1454.6,611.4 1451.2,614.6 1444.1,610.3" fill="#616161"/>
<polygon points="1444.2,574.8 1449.7,566.4 1454.0,568.1 1449.8,575.6" fill="#5c5c5c"/>
<polygon points="1520.7,633.5 1534.8,646.4 1532.0,647.3 1519.5,637.6" fill="#5c5c5c"/>
<polygon points="1513.2,591.5 1519.3,598.2 1517.7,600.3 1511.1,593.4" fill="#616161"/>
<polygon points="1456.0,512.3 1479.8,514.0 1481.5,534.5 1461.1,536.2" fill="#4f4f4f"/>
<polygon points="1447.4,539.6 1505.4,541.3 1505.4,582.2 1474.7,585.6 1447.4,578.8" fill="#4c4c4c"/>
<polygon points="1457.7,582.2 1495.2,585.6 1495.2,619.7 1466.2,616.3" fill="#4f4f4f"/>
<polygon points="1420.2,517.4 1435.5,520.8 1430.4,548.1 1416.8,553.2" fill="#545454"/>
<polygon points="1498.6,514.0 1515.6,515.7 1512.2,531.0 1498.6,531.0" fill="#545454"/>
<polygon points="1512.2,606.1 1532.7,607.8 1529.3,626.6 1515.6,624.8" fill="#545454"/>
<polygon points="1529.3,633.4 1563.3,630.0 1563.3,653.5 1529.3,653.5" fill="#545454"/>
<polygon points="1414.2,599.3 1420.2,599.3 1423.6,633.4 1414.2,636.8" fill="#545454"/>
<polygon points="1537.8,514.0 1556.5,517.4 1554.8,541.3 1539.5,539.6" fill="#575757"/>
<polygon points="1421.9,502.1 1435.5,502.1 1433.8,510.6 1425.3,512.3" fill="#212121"/>
<polygon points="1484.9,502.1 1502.0,502.1 1498.6,508.9 1486.6,510.6" fill="#212121"/>
<polygon points="1414.2,536.2 1420.2,535.3 1419.3,543.0 1414.2,546.4" fill="#212121"/>
<polygon points="1461.1,517.4 1469.6,519.1 1466.2,527.6 1459.4,525.9" fill="#212121"/>
<polygon points="1446.6,562.6 1457.7,561.7 1459.4,572.0 1447.4,572.0" fill="#212121"/>
<polygon points="1461.1,577.1 1474.7,577.9 1475.6,585.6 1467.9,592.4 1460.2,585.6" fill="#212121"/>
<polygon points="1493.5,551.5 1496.9,549.8 1498.6,563.5 1495.2,561.7" fill="#1f1f1f"/>
<polygon points="1556.5,549.8 1567.1,548.1 1567.1,580.5 1558.2,580.5 1554.8,565.2" fill="#212121"/>
<polygon points="1549.7,583.9 1558.2,587.3 1554.8,599.3 1546.3,597.6" fill="#212121"/>
<polygon points="1551.4,606.1 1567.1,602.7 1567.1,626.6 1559.9,623.1 1549.7,614.6" fill="#212121"/>
<polygon points="1440.6,624.8 1454.3,621.4 1458.5,628.3 1452.6,638.5 1442.3,636.8" fill="#212121"/>
<polygon points="1507.1,624.8 1515.6,626.6 1519.0,633.4 1512.2,638.5 1510.5,631.7" fill="#212121"/>
<polygon points="1428.7,643.6 1435.5,647.0 1433.8,653.5 1427.0,653.5" fill="#212121"/>
<polygon points="1539.5,519.1 1546.3,522.5 1544.6,529.3 1537.8,527.6" fill="#212121"/>
<polygon points="1536.1,641.9 1546.3,645.3 1542.9,653.5 1536.1,653.5" fill="#242424"/>
</g></g>
<g filter="url(#hb)" stroke-linecap="round" stroke-linejoin="round">
<polygon points="1510.3,550.7 1510.1,558.0 1516.8,566.0 1515.8,555.6" fill="#b9fc00"/>
<polygon points="1510.5,551.1 1510.6,557.9 1516.6,565.6 1515.4,555.9" fill="#ffd400"/>
<polygon points="1510.7,551.5 1511.0,557.8 1516.5,565.2 1515.0,556.1" fill="#ff5a00"/>
<polygon points="1510.8,551.9 1511.4,557.7 1516.3,564.8 1514.7,556.3" fill="#ff0b00"/>
<polygon points="1522.4,592.8 1532.3,592.4 1528.7,602.3" fill="#b9fc00" stroke="#b9fc00" stroke-width="2.6"/>
<polygon points="1522.4,592.8 1532.3,592.4 1528.7,602.3" fill="#ffd400" stroke="#ffd400" stroke-width="1.6"/>
<polygon points="1522.4,592.8 1532.3,592.4 1528.7,602.3" fill="#ff5a00" stroke="#ff5a00" stroke-width="0.8"/>
<polygon points="1522.4,592.8 1532.3,592.4 1528.7,602.3" fill="#ff1500" stroke="#ff1500" stroke-width="0.0"/>
<polygon points="1520.1,589.8 1526.0,591.7 1535.0,590.8 1526.2,588.8" fill="#96fa00"/>
<polygon points="1520.7,589.9 1526.1,591.1 1534.4,590.7 1526.2,589.4" fill="#ffd400"/>
<polygon points="1420.0,570.8 1418.8,574.7 1423.0,578.3 1423.6,572.8" fill="#b9fc00"/>
<polygon points="1420.2,571.2 1419.3,574.6 1422.8,577.8 1423.2,573.1" fill="#ffd400"/>
<polygon points="1420.4,571.6 1419.7,574.6 1422.7,577.5 1422.9,573.3" fill="#ff5a00"/>
<polygon points="1420.5,572.0 1420.1,574.5 1422.6,577.1 1422.5,573.5" fill="#ff1500"/>
<polygon points="1422.1,577.4 1418.0,583.0 1415.1,593.0 1420.7,584.2" fill="#96fa00"/>
<polygon points="1421.9,577.9 1418.5,583.4 1415.4,592.4 1420.1,584.1" fill="#ffe900"/>
<polygon points="1532.8,524.9 1530.4,528.6 1531.7,534.6 1534.3,529.0" fill="#a8fb00"/>
<polygon points="1532.7,525.4 1530.9,528.7 1531.8,534.1 1533.8,529.1" fill="#ffe900"/>
<polygon points="1532.7,525.9 1531.4,528.9 1531.8,533.6 1533.3,529.1" fill="#ff5a00"/>
<polygon points="1519.1,515.1 1516.4,520.7 1516.4,529.9 1519.7,521.3" fill="#96fa00"/>
<polygon points="1519.0,515.7 1517.0,521.0 1516.5,529.3 1519.1,521.4" fill="#ffff00"/>
<polygon points="1528.8,539.1 1530.7,543.4 1536.5,546.8 1533.1,541.0" fill="#96fa00"/>
<polygon points="1529.3,539.6 1531.2,543.1 1536.1,546.4 1532.7,541.5" fill="#ffe900"/>
<polygon points="1523.1,564.6 1524.2,571.7 1529.5,581.1 1527.1,570.6" fill="#96fa00"/>
<polygon points="1523.3,565.2 1524.8,571.6 1529.3,580.5 1526.6,570.9" fill="#ffe900"/>
<polygon points="1527.4,564.6 1527.9,570.3 1532.0,577.7 1530.6,569.3" fill="#96fa00"/>
<polygon points="1527.6,565.2 1528.5,570.2 1531.8,577.1 1530.1,569.6" fill="#ffff00"/>
<polygon points="1501.1,620.6 1506.3,619.6 1511.4,614.1 1504.2,616.3" fill="#a8fb00"/>
<polygon points="1501.6,620.3 1506.1,619.2 1510.9,614.3 1504.5,616.7" fill="#ffe900"/>
<polygon points="1502.0,620.1 1505.9,618.7 1510.5,614.6 1504.9,617.1" fill="#ff5a00"/>
<polygon points="1502.6,605.6 1503.3,610.0 1507.4,615.2 1505.7,608.8" fill="#96fa00"/>
<polygon points="1502.8,606.1 1503.9,609.8 1507.1,614.6 1505.2,609.2" fill="#ffe900"/>
<polygon points="1477.5,638.6 1485.0,649.0 1495.8,632.6 1484.9,645.1" fill="#a8fb00"/>
<polygon points="1477.8,639.0 1485.0,648.5 1495.5,633.0 1484.9,645.6" fill="#ffe900"/>
<polygon points="1478.1,639.3 1485.0,648.0 1495.2,633.4 1484.9,646.1" fill="#ff7800"/>
<polygon points="1435.1,530.6 1437.9,535.1 1444.5,539.1 1439.8,533.0" fill="#96fa00"/>
<polygon points="1435.5,531.0 1438.3,534.7 1444.0,538.7 1439.5,533.5" fill="#ffe900"/>
<polygon points="1455.4,514.3 1452.6,516.9 1451.4,522.2 1455.0,518.1" fill="#96fa00"/>
<polygon points="1455.1,514.8 1453.1,517.2 1451.7,521.7 1454.4,517.9" fill="#ffe900"/>
<polygon points="1541.5,552.4 1541.5,555.6 1545.1,558.3 1544.5,553.9" fill="#a8fb00"/>
<polygon points="1541.8,552.8 1541.9,555.5 1544.9,557.9 1544.1,554.2" fill="#ffe900"/>
<polygon points="1542.0,553.2 1542.4,555.3 1544.6,557.5 1543.7,554.5" fill="#ff7800"/>
<polygon points="1543.9,565.9 1547.1,565.2 1548.7,561.0 1544.6,562.7" fill="#a8fb00"/>
<polygon points="1544.2,565.5 1546.8,564.7 1548.4,561.4 1545.0,563.0" fill="#ffe900"/>
<polygon points="1544.6,565.2 1546.5,564.3 1548.0,561.7 1545.4,563.3" fill="#ff7800"/>
<polygon points="1510.1,505.8 1513.8,511.8 1521.2,503.3 1514.0,509.3" fill="#96fa00"/>
<polygon points="1510.5,506.3 1513.9,511.2 1520.7,503.8 1514.0,509.9" fill="#ffff00"/>
<polygon points="1535.0,607.2 1534.9,610.9 1538.0,615.2 1537.5,609.9" fill="#96fa00"/>
<polygon points="1535.2,607.8 1535.5,610.8 1537.8,614.6 1536.9,610.3" fill="#ffff00"/>
<polygon points="1535.6,628.6 1539.2,627.3 1542.5,622.8 1537.5,625.3" fill="#96fa00"/>
<polygon points="1536.1,628.3 1538.9,626.8 1542.0,623.1 1538.0,625.6" fill="#ffff00"/>
<polygon points="1427.1,626.0 1425.4,629.0 1426.1,634.0 1427.9,629.3" fill="#96fa00"/>
<polygon points="1427.0,626.6 1426.0,629.2 1426.1,633.4 1427.3,629.4" fill="#ffff00"/>
<polygon points="1546.0,509.4 1548.4,507.5 1549.1,503.2 1546.2,506.4" fill="#96fa00"/>
<polygon points="1546.3,508.9 1547.9,507.1 1548.9,503.8 1546.8,506.5" fill="#ffff00"/>
<polygon points="1552.9,504.9 1553.0,508.0 1555.9,511.1 1555.2,506.8" fill="#96fa00"/>
<polygon points="1553.1,505.5 1553.6,507.8 1555.7,510.6 1554.7,507.2" fill="#ffff00"/>
</g></g>
<text x="1493.0" y="488.9" font-size="27" fill="#000" text-anchor="middle" textLength="88.2" lengthAdjust="spacingAndGlyphs">AVG20</text>
<rect x="1465.1" y="665.8" width="97.9" height="16.1" fill="url(#jet)"/>
<text x="1351.0" y="685.3" font-size="26.5" fill="#000" textLength="106.3" lengthAdjust="spacingAndGlyphs">G, [Jm<tspan font-size="17.5" dy="-9.5">-2</tspan><tspan dy="9.5">]</tspan></text>
<text x="1473.6" y="708.6" font-size="26.5" fill="#000" text-anchor="middle">0</text>
<text x="1548.4" y="708.6" font-size="26.5" fill="#000" text-anchor="middle">7</text>
<filter id="f40" x="0" y="0" width="1" height="1" color-interpolation-filters="sRGB"><feGaussianBlur in="SourceGraphic" stdDeviation="1.2" result="b"/><feTurbulence type="fractalNoise" baseFrequency="0.03 0.09" numOctaves="2" seed="21" result="n"/><feTurbulence type="fractalNoise" baseFrequency="0.09 0.03" numOctaves="2" seed="28" result="m"/><feColorMatrix in="n" type="matrix" values="0.24 0 0 0 0 0.24 0 0 0 0 0.24 0 0 0 0 0 0 0 0 1" result="g"/><feColorMatrix in="m" type="matrix" values="0.24 0 0 0 0 0.24 0 0 0 0 0.24 0 0 0 0 0 0 0 0 1" result="h"/><feComposite in="b" in2="g" operator="arithmetic" k1="0" k2="1" k3="1" k4="-0.120" result="t"/><feComposite in="t" in2="h" operator="arithmetic" k1="0" k2="1" k3="1" k4="-0.120" result="s"/><feComponentTransfer in="s"><feFuncR type="table" tableValues="0 0 0 0 0 0 0 0 0 0 0 0 0 0 0 0.005 0.013 0.016 0.016 0.016 0.016 0.016 0.016 0.016 0.302 0.623 0.794 0.966 1 1 1 1 1 1 1 1 1 1 1 1 1"/><feFuncG type="table" tableValues="0 0.069 0.137 0.255 0.373 0.471 0.569 0.667 0.765 0.866 0.98 0.984 0.988 0.985 0.982 0.943 0.88 0.855 0.855 0.855 0.855 0.855 0.855 0.855 0.918 0.982 0.99 0.998 0.915 0.809 0.699 0.585 0.471 0.324 0.176 0.105 0.084 0.063 0.042 0.021 0"/><feFuncB type="table" tableValues="1 1 1 1 1 1 1 1 1 0.997 0.98 0.882 0.784 0.662 0.539 0.353 0.123 0.031 0.031 0.031 0.031 0.031 0.031 0.031 0.016 0 0 0 0 0 0 0 0 0 0 0 0 0 0 0 0"/></feComponentTransfer></filter>
<clipPath id="c40"><rect x="1959.2" y="538.1" width="151.2" height="150.3"/></clipPath>
<g clip-path="url(#c40)"><g transform="rotate(55 2034.8 613.2)" filter="url(#f40)"><g transform="rotate(-55 2034.8 613.2)">
<rect x="1951.2" y="530.1" width="167.2" height="166.3" fill="#4f4f4f"/>
<polygon points="1991.9,644.2 2000.6,635.1 2003.4,638.7 1997.1,646.6" fill="#404040"/>
<polygon points="2082.4,629.8 2087.0,627.4 2088.6,628.7 2084.8,632.1" fill="#404040"/>
<polygon points="2032.0,645.7 2036.3,655.1 2034.5,657.6 2029.1,649.0" fill="#404040"/>
<polygon points="2021.8,650.1 2028.4,642.9 2029.6,645.0 2024.6,651.2" fill="#404040"/>
<polygon points="2063.9,552.1 2068.6,559.4 2067.6,563.5 2061.2,556.3" fill="#616161"/>
<polygon points="2067.9,569.4 2075.6,580.5 2073.5,582.1 2066.7,574.2" fill="#383838"/>
<polygon points="2009.7,650.1 2014.4,644.0 2017.2,644.2 2013.3,651.6" fill="#5c5c5c"/>
<polygon points="2056.0,614.2 2059.2,618.1 2057.9,620.5 2054.4,617.0" fill="#616161"/>
<polygon points="2039.4,620.5 2048.7,612.0 2049.1,614.8 2040.3,623.3" fill="#404040"/>
<polygon points="2011.6,571.4 2015.5,576.5 2015.6,579.4 2010.1,573.7" fill="#616161"/>
<polygon points="2004.7,584.1 2012.2,578.5 2013.0,579.9 2007.6,584.6" fill="#616161"/>
<polygon points="1965.0,613.7 1970.1,619.1 1967.3,623.0 1962.1,619.9" fill="#383838"/>
<polygon points="2006.7,660.3 2012.2,654.6 2016.2,656.7 2011.6,661.6" fill="#5c5c5c"/>
<polygon points="2032.9,588.5 2042.7,578.5 2045.4,578.8 2037.5,588.0" fill="#404040"/>
<polygon points="2047.9,665.1 2057.2,659.0 2059.9,659.6 2051.3,666.4" fill="#5c5c5c"/>
<polygon points="1997.5,563.0 2007.3,576.1 2004.0,580.0 1995.0,569.6" fill="#616161"/>
<polygon points="2068.2,660.0 2070.2,664.4 2066.8,667.2 2063.0,663.1" fill="#404040"/>
<polygon points="2061.8,680.0 2068.5,669.4 2070.2,669.3 2063.8,679.9" fill="#383838"/>
<polygon points="2049.1,568.9 2054.2,579.1 2053.9,581.1 2048.7,571.5" fill="#5c5c5c"/>
<polygon points="2096.1,670.7 2101.8,681.9 2099.7,686.1 2092.7,676.6" fill="#383838"/>
<polygon points="2076.0,665.0 2080.7,673.2 2076.7,674.5 2072.9,668.7" fill="#5c5c5c"/>
<polygon points="2012.4,553.2 2016.7,544.7 2018.8,546.6 2016.1,553.3" fill="#5c5c5c"/>
<polygon points="2080.8,620.3 2088.1,614.6 2090.2,616.6 2085.1,621.3" fill="#383838"/>
<polygon points="1979.9,567.2 1983.9,562.5 1985.7,564.6 1983.6,568.9" fill="#404040"/>
<polygon points="1971.2,650.7 1977.2,657.2 1975.8,658.7 1969.7,653.3" fill="#383838"/>
<polygon points="2101.0,571.3 2109.7,578.4 2110.2,581.4 2100.3,574.3" fill="#5c5c5c"/>
<polygon points="1976.6,640.4 1981.8,646.6 1979.9,649.7 1973.6,643.0" fill="#5c5c5c"/>
<polygon points="2005.5,592.5 2010.6,586.9 2012.2,587.8 2008.3,593.6" fill="#616161"/>
<polygon points="2078.9,592.8 2085.4,599.8 2081.7,603.4 2075.5,597.9" fill="#616161"/>
<polygon points="2065.5,674.4 2074.4,668.2 2077.7,669.4 2068.8,676.6" fill="#404040"/>
<polygon points="2022.4,562.5 2030.9,572.9 2028.0,573.9 2021.0,567.0" fill="#616161"/>
<polygon points="2015.4,669.7 2019.8,666.3 2023.8,667.9 2020.6,673.7" fill="#404040"/>
<polygon points="1990.4,555.3 1996.1,550.7 2001.0,553.5 1996.2,559.7" fill="#383838"/>
<polygon points="1982.5,549.6 1986.5,545.0 1989.2,546.8 1986.6,550.9" fill="#404040"/>
<polygon points="1982.6,680.5 1991.5,668.7 1993.4,670.6 1987.2,679.7" fill="#404040"/>
<polygon points="2040.7,681.3 2048.9,673.6 2053.0,674.7 2045.0,684.5" fill="#616161"/>
<polygon points="2024.0,649.9 2030.7,640.1 2033.7,639.1 2027.6,649.2" fill="#404040"/>
<polygon points="2021.8,570.4 2027.1,574.8 2024.6,578.7 2019.1,574.9" fill="#404040"/>
<polygon points="2066.1,613.7 2073.8,606.4 2077.1,608.6 2070.9,616.5" fill="#383838"/>
<polygon points="2045.6,681.5 2050.4,677.2 2053.3,679.2 2049.5,684.0" fill="#5c5c5c"/>
<polygon points="2053.8,550.0 2091.3,551.7 2091.3,609.7 2057.2,609.7" fill="#2b2b2b"/>
<polygon points="1995.8,606.3 2018.0,606.3 2018.0,638.6 1995.8,638.6" fill="#2b2b2b"/>
<polygon points="1997.6,652.3 2021.4,652.3 2021.4,669.3 1997.6,669.3" fill="#2e2e2e"/>
<polygon points="2055.5,635.2 2099.8,635.2 2099.8,650.6 2055.5,650.6" fill="#2e2e2e"/>
<polygon points="2011.2,565.4 2028.2,567.1 2028.2,608.0 2006.1,606.3" fill="#333333"/>
<polygon points="2091.3,538.1 2110.4,538.1 2110.4,584.1 2094.7,577.3" fill="#292929"/>
<polygon points="1959.2,538.1 2006.1,538.1 1989.0,553.4 1973.7,567.1 1959.2,579.0" fill="#6c6c6c"/>
<polygon points="1965.2,584.1 1982.2,589.2 1995.8,635.2 1989.0,652.3 1975.4,643.8 1965.2,609.7" fill="#696969"/>
<polygon points="1959.2,609.7 1966.9,613.1 1973.7,652.3 1970.3,688.4 1959.2,688.4" fill="#696969"/>
<polyline points="2026.5,543.2 2031.6,584.1 2029.9,635.2 2036.8,662.5 2019.7,688.4" fill="none" stroke="#6c6c6c" stroke-width="8.2" stroke-linecap="round" stroke-linejoin="round"/>
<polyline points="2050.4,553.4 2055.5,592.6 2057.2,635.2 2052.1,662.5 2064.0,688.4" fill="none" stroke="#6c6c6c" stroke-width="6.8" stroke-linecap="round" stroke-linejoin="round"/>
<polyline points="1972.0,660.8 2006.1,688.4" fill="none" stroke="#6c6c6c" stroke-width="6.1" stroke-linecap="round" stroke-linejoin="round"/>
<polyline points="1989.0,643.8 1965.2,669.3" fill="none" stroke="#6c6c6c" stroke-width="5.8" stroke-linecap="round" stroke-linejoin="round"/>
<polygon points="2099.8,618.2 2110.4,614.8 2110.4,652.3 2101.5,648.9" fill="#6c6c6c"/>
<polyline points="2006.1,541.5 2043.6,551.7" fill="none" stroke="#6c6c6c" stroke-width="8.5" stroke-linecap="round" stroke-linejoin="round"/>
<polyline points="2064.0,688.4 2074.3,669.3 2091.3,655.7 2110.4,662.5" fill="none" stroke="#696969" stroke-width="5.1" stroke-linecap="round" stroke-linejoin="round"/>
<polyline points="2091.3,609.7 2101.5,592.6 2110.4,589.2" fill="none" stroke="#666666" stroke-width="4.4" stroke-linecap="round" stroke-linejoin="round"/>
<polygon points="1980.5,561.1 1994.1,565.4 1997.6,577.3 2009.5,589.2 2004.4,601.2 1999.3,608.0 1987.3,601.2 1983.9,589.2 1975.4,582.4" fill="#131313"/>
<polygon points="2012.9,616.5 2028.2,609.7 2034.2,614.8 2035.1,635.2 2028.2,642.0 2023.1,655.7 2009.5,650.6 2007.8,640.3 2018.0,631.8" fill="#131313"/>
<polygon points="2069.1,568.8 2074.3,567.1 2086.2,579.0 2086.2,590.9 2072.6,595.2 2067.4,584.1" fill="#161616"/>
<polygon points="2064.0,614.8 2072.6,609.7 2087.9,613.1 2089.6,628.4 2086.2,642.0 2076.0,638.6 2070.9,625.0" fill="#161616"/>
<polygon points="2057.2,642.0 2070.9,643.8 2072.6,667.6 2064.0,669.3 2052.1,659.1" fill="#161616"/>
<polygon points="2036.8,681.2 2045.3,674.4 2052.1,682.9 2050.4,688.4 2036.8,688.4" fill="#161616"/>
<polygon points="1991.6,676.1 1997.6,677.8 2004.4,686.4 2002.7,688.4 1994.1,688.4" fill="#181818"/>
<polygon points="2101.5,548.3 2110.4,543.2 2110.4,572.2 2104.9,567.1" fill="#1b1b1b"/>
<polygon points="1998.4,621.6 2006.1,618.2 2009.5,625.0 2002.7,628.4" fill="#1a1a1a"/>
<polygon points="2021.4,568.8 2026.5,569.6 2027.4,575.6 2023.1,574.7" fill="#141414"/>
</g></g>
<g filter="url(#hb)" stroke-linecap="round" stroke-linejoin="round">
<polygon points="2037.0,611.3 2034.6,620.4 2038.2,633.6 2040.4,620.1" fill="#b9fc00"/>
<polygon points="2037.1,611.8 2035.1,620.4 2038.2,633.1 2039.9,620.2" fill="#ffd400"/>
<polygon points="2037.1,612.2 2035.5,620.5 2038.1,632.7 2039.5,620.3" fill="#ff5a00"/>
<polygon points="2037.1,612.6 2035.9,620.6 2038.1,632.3 2039.1,620.4" fill="#ff0b00"/>
<polygon points="1959.2,597.7 1962.6,598.6 1963.5,606.3 1959.2,608.0" fill="#b9fc00" stroke="#b9fc00" stroke-width="2.6"/>
<polygon points="1959.2,597.7 1962.6,598.6 1963.5,606.3 1959.2,608.0" fill="#ffd400" stroke="#ffd400" stroke-width="1.6"/>
<polygon points="1959.2,597.7 1962.6,598.6 1963.5,606.3 1959.2,608.0" fill="#ff5a00" stroke="#ff5a00" stroke-width="0.8"/>
<polygon points="1959.2,597.7 1962.6,598.6 1963.5,606.3 1959.2,608.0" fill="#ff0f00" stroke="#ff0f00" stroke-width="0.0"/>
<polygon points="1960.0,580.1 1958.2,587.5 1960.6,598.3 1962.3,587.3" fill="#96fa00"/>
<polygon points="1960.1,580.7 1958.8,587.6 1960.6,597.7 1961.7,587.5" fill="#ffe900"/>
<polygon points="2043.3,587.0 2047.1,597.9 2046.8,605.1 2050.2,597.6" fill="#96fa00"/>
<polygon points="2043.6,587.5 2047.7,597.8 2047.0,604.6 2049.6,597.6" fill="#ffe900"/>
<polygon points="1962.9,577.6 1967.0,576.7 1971.7,572.7 1965.8,574.6" fill="#96fa00"/>
<polygon points="1963.5,577.3 1966.8,576.1 1971.1,573.0 1966.2,575.0" fill="#ffe900"/>
<polygon points="2030.5,575.1 2031.0,578.8 2034.5,582.9 2033.2,577.7" fill="#96fa00"/>
<polygon points="2030.8,575.6 2031.6,578.6 2034.2,582.4 2032.7,578.0" fill="#ffe900"/>
<polygon points="2033.7,564.8 2036.4,564.5 2039.0,561.6 2035.2,562.6" fill="#96fa00"/>
<polygon points="2034.2,564.5 2036.2,563.9 2038.5,562.0 2035.6,563.0" fill="#ffe900"/>
<polygon points="2012.7,683.7 2011.3,686.4 2014.0,689.4 2015.1,685.5" fill="#a8fb00"/>
<polygon points="2012.8,684.2 2011.8,686.4 2013.9,688.9 2014.6,685.7" fill="#ffe900"/>
<polygon points="2012.9,684.7 2012.3,686.4 2013.7,688.4 2014.2,685.9" fill="#ff7800"/>
<polygon points="2048.4,651.7 2048.2,654.1 2050.7,656.2 2050.4,653.0" fill="#96fa00"/>
<polygon points="2048.7,652.3 2048.8,653.9 2050.4,655.7 2049.9,653.4" fill="#ffe900"/>
<polygon points="2109.7,629.5 2108.5,632.8 2110.1,637.5 2111.2,632.7" fill="#96fa00"/>
<polygon points="2109.7,630.1 2109.1,632.9 2110.1,636.9 2110.6,632.8" fill="#ffe900"/>
</g></g>
<text x="2042.7" y="524.8" font-size="27" fill="#000" text-anchor="middle" textLength="89.0" lengthAdjust="spacingAndGlyphs">AVG40</text>
<rect x="2011.7" y="697.7" width="97.1" height="15.8" fill="url(#jet)"/>
<text x="1897.7" y="716.5999999999999" font-size="26.5" fill="#000" textLength="106.2" lengthAdjust="spacingAndGlyphs">G, [Jm<tspan font-size="17.5" dy="-9.5">-2</tspan><tspan dy="9.5">]</tspan></text>
<text x="2019.7" y="739.9000000000001" font-size="26.5" fill="#000" text-anchor="middle">0</text>
<text x="2108.3" y="739.9000000000001" font-size="26.5" fill="#000" text-anchor="middle">15</text>
<path d="M1443.6 226.0L1599.1 560.9L1754.6 699.0L1910.2 745.0L2065.7 767.9" fill="none" stroke="#4B94C0" stroke-width="3.9" stroke-linejoin="round"/>
<path d="M1443.5 760.0L1598.7 709.9L1753.7 593.5L1908.6 422.8L2064.1 224.2" fill="none" stroke="#FF0C10" stroke-width="4.4" stroke-linejoin="round"/>
<rect x="1434.5" y="216.9" width="18.2" height="18.2" fill="#4B94C0"/>
<rect x="1590.0" y="551.8" width="18.2" height="18.2" fill="#4B94C0"/>
<rect x="1745.5" y="689.9" width="18.2" height="18.2" fill="#4B94C0"/>
<rect x="1901.1" y="735.9" width="18.2" height="18.2" fill="#4B94C0"/>
<rect x="2056.6" y="758.8" width="18.2" height="18.2" fill="#4B94C0"/>
<circle cx="1443.5" cy="760.0" r="10.1" fill="#FF4B50"/>
<circle cx="1598.7" cy="709.9" r="10.1" fill="#FF4B50"/>
<circle cx="1753.7" cy="593.5" r="10.1" fill="#FF4B50"/>
<circle cx="1908.6" cy="422.8" r="10.1" fill="#FF4B50"/>
<circle cx="2064.1" cy="224.2" r="10.1" fill="#FF4B50"/>
<path d="M1288.1 799.4H2211.2M1443.6 799.4 v-9M1599.1 799.4 v-9M1754.6 799.4 v-9M1910.2 799.4 v-9M2065.7 799.4 v-9" stroke="#000" stroke-width="4.2" fill="none"/>
<path d="M1288.1 45.6V801.5M1288.1 799.4 h9.2M1288.1 611.0 h9.2M1288.1 422.5 h9.2M1288.1 234.0 h9.2" stroke="#4B94C0" stroke-width="4.2" fill="none"/>
<path d="M1286.0 45.6H2211.2" stroke="#000" stroke-width="4.2" fill="none"/>
<path d="M2221.2 43.5V801.5M2221.2 799.4 h-15.1M2221.2 611.0 h-15.1M2221.2 422.5 h-15.1M2221.2 234.1 h-15.1M2221.2 45.6 h-15.1" stroke="#FF4F53" stroke-width="4.2" fill="none"/>
<text x="1288.1" y="838.6" font-size="41" fill="#000" text-anchor="middle">0</text>
<text x="1443.6" y="838.6" font-size="41" fill="#000" text-anchor="middle">10</text>
<text x="1599.1" y="838.6" font-size="41" fill="#000" text-anchor="middle">20</text>
<text x="1754.6" y="838.6" font-size="41" fill="#000" text-anchor="middle">30</text>
<text x="1910.2" y="838.6" font-size="41" fill="#000" text-anchor="middle">40</text>
<text x="2065.7" y="838.6" font-size="41" fill="#000" text-anchor="middle">50</text>
<text x="2221.2" y="838.6" font-size="41" fill="#000" text-anchor="middle">60</text>
<text x="1271" y="810.7" font-size="41" fill="#4B94C0" text-anchor="end">0</text>
<text x="1271" y="622.2" font-size="41" fill="#4B94C0" text-anchor="end">7</text>
<text x="1271" y="433.8" font-size="41" fill="#4B94C0" text-anchor="end">14</text>
<text x="1271" y="245.3" font-size="41" fill="#4B94C0" text-anchor="end">21</text>
<text x="1271" y="56.9" font-size="41" fill="#4B94C0" text-anchor="end">28</text>
<text x="2240" y="810.9" font-size="41" fill="#FF4F53">0</text>
<text x="2240" y="622.5" font-size="41" fill="#FF4F53">2</text>
<text x="2240" y="434.0" font-size="41" fill="#FF4F53">4</text>
<text x="2240" y="245.6" font-size="41" fill="#FF4F53">6</text>
<text x="2240" y="57.1" font-size="41" fill="#FF4F53">8</text>
<text x="1147.5" y="64.5" font-size="49" fill="#000">(b)</text>
<text x="1753" y="903.8" font-size="42.7" fill="#000" text-anchor="middle">Grain size, [µm]</text>
<text x="1201.2" y="422" font-size="42.7" fill="#4B94C0" text-anchor="middle" transform="rotate(-90 1201.2 422)">Fatigue life, [×10<tspan font-size="27" dy="-16">3</tspan><tspan dy="16">]</tspan></text>
<text x="2309.2" y="420.5" font-size="42.7" fill="#FF4F53" text-anchor="middle" transform="rotate(-90 2309.2 420.5)">Accumulation rate of <tspan font-style="italic">G</tspan>, [×10<tspan font-size="27" dy="-16">-2</tspan><tspan dy="16">]</tspan></text>
</svg>
</body></html>
